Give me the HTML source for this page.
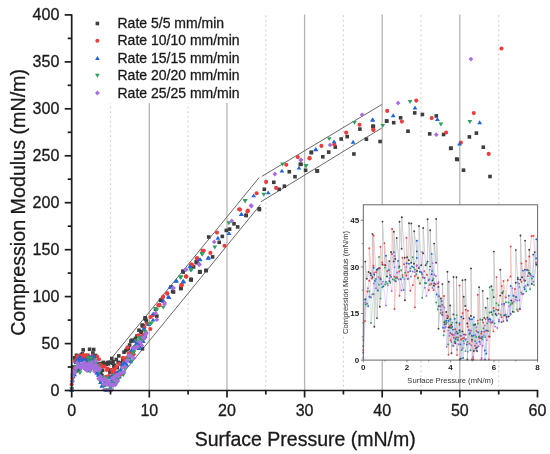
<!DOCTYPE html>
<html><head><meta charset="utf-8"><title>Compression Modulus</title><style>html,body{margin:0;padding:0;background:#fff;overflow:hidden}svg{display:block;filter:blur(0.35px)}</style></head><body>
<svg width="550" height="454" viewBox="0 0 550 454">
<style>.t{font-family:"Liberation Sans",Arial,sans-serif;fill:#1a1a1a;stroke:#1a1a1a;stroke-width:0.3px}</style>
<rect width="550" height="454" fill="#fff"/>
<line x1="110.5" y1="15.2" x2="110.5" y2="390" stroke="#d2d2d2" stroke-width="1.2" stroke-dasharray="1.8 3.0"/>
<line x1="149.3" y1="14.5" x2="149.3" y2="390" stroke="#b4b4b4" stroke-width="1.3"/>
<line x1="188.1" y1="15.2" x2="188.1" y2="390" stroke="#d2d2d2" stroke-width="1.2" stroke-dasharray="1.8 3.0"/>
<line x1="227.0" y1="14.5" x2="227.0" y2="390" stroke="#b4b4b4" stroke-width="1.3"/>
<line x1="265.8" y1="15.2" x2="265.8" y2="390" stroke="#d2d2d2" stroke-width="1.2" stroke-dasharray="1.8 3.0"/>
<line x1="304.6" y1="14.5" x2="304.6" y2="390" stroke="#b4b4b4" stroke-width="1.3"/>
<line x1="343.4" y1="15.2" x2="343.4" y2="390" stroke="#d2d2d2" stroke-width="1.2" stroke-dasharray="1.8 3.0"/>
<line x1="382.2" y1="14.5" x2="382.2" y2="390" stroke="#b4b4b4" stroke-width="1.3"/>
<line x1="421.0" y1="15.2" x2="421.0" y2="390" stroke="#d2d2d2" stroke-width="1.2" stroke-dasharray="1.8 3.0"/>
<line x1="459.8" y1="14.5" x2="459.8" y2="390" stroke="#b4b4b4" stroke-width="1.3"/>
<line x1="498.7" y1="15.2" x2="498.7" y2="390" stroke="#d2d2d2" stroke-width="1.2" stroke-dasharray="1.8 3.0"/>
<rect x="88" y="12" width="160" height="91" fill="#fff"/>
<g fill="none" stroke="#686868" stroke-width="1.0">
<polyline points="104.9,366.3 259.1,177.6"/>
<polyline points="261.8,176.4 381.8,104.5"/>
<polyline points="109,390.3 260.3,204.8"/>
<polyline points="260.9,201.8 381.8,128"/>
</g>
<g>
<rect x="143.8" y="317.3" width="3.6" height="3.6" fill="#3d3d3d"/>
<rect x="141.8" y="324.4" width="3.6" height="3.6" fill="#3d3d3d"/>
<rect x="140.6" y="323.8" width="3.6" height="3.6" fill="#3d3d3d"/>
<rect x="139.4" y="330.8" width="3.6" height="3.6" fill="#3d3d3d"/>
<rect x="137.2" y="328.4" width="3.6" height="3.6" fill="#3d3d3d"/>
<rect x="135.2" y="334.2" width="3.6" height="3.6" fill="#3d3d3d"/>
<rect x="133.7" y="336.6" width="3.6" height="3.6" fill="#3d3d3d"/>
<rect x="132.3" y="338.9" width="3.6" height="3.6" fill="#3d3d3d"/>
<rect x="130.3" y="338.3" width="3.6" height="3.6" fill="#3d3d3d"/>
<rect x="129.1" y="339.4" width="3.6" height="3.6" fill="#3d3d3d"/>
<rect x="127.8" y="343.2" width="3.6" height="3.6" fill="#3d3d3d"/>
<rect x="126.7" y="346.6" width="3.6" height="3.6" fill="#3d3d3d"/>
<rect x="125.3" y="347.5" width="3.6" height="3.6" fill="#3d3d3d"/>
<rect x="124.0" y="348.8" width="3.6" height="3.6" fill="#3d3d3d"/>
<rect x="122.2" y="350.4" width="3.6" height="3.6" fill="#3d3d3d"/>
<rect x="120.9" y="357.7" width="3.6" height="3.6" fill="#3d3d3d"/>
<rect x="119.0" y="361.0" width="3.6" height="3.6" fill="#3d3d3d"/>
<rect x="117.0" y="354.1" width="3.6" height="3.6" fill="#3d3d3d"/>
<rect x="116.4" y="360.6" width="3.6" height="3.6" fill="#3d3d3d"/>
<rect x="115.5" y="365.9" width="3.6" height="3.6" fill="#3d3d3d"/>
<rect x="114.5" y="357.7" width="3.6" height="3.6" fill="#3d3d3d"/>
<rect x="113.5" y="365.0" width="3.6" height="3.6" fill="#3d3d3d"/>
<rect x="112.7" y="363.5" width="3.6" height="3.6" fill="#3d3d3d"/>
<rect x="112.1" y="364.6" width="3.6" height="3.6" fill="#3d3d3d"/>
<rect x="111.3" y="360.0" width="3.6" height="3.6" fill="#3d3d3d"/>
<rect x="110.6" y="361.4" width="3.6" height="3.6" fill="#3d3d3d"/>
<rect x="110.0" y="356.8" width="3.6" height="3.6" fill="#3d3d3d"/>
<rect x="108.9" y="368.2" width="3.6" height="3.6" fill="#3d3d3d"/>
<rect x="108.1" y="370.3" width="3.6" height="3.6" fill="#3d3d3d"/>
<rect x="107.4" y="360.6" width="3.6" height="3.6" fill="#3d3d3d"/>
<rect x="106.4" y="362.1" width="3.6" height="3.6" fill="#3d3d3d"/>
<rect x="105.6" y="360.7" width="3.6" height="3.6" fill="#3d3d3d"/>
<rect x="104.5" y="362.2" width="3.6" height="3.6" fill="#3d3d3d"/>
<rect x="103.8" y="362.3" width="3.6" height="3.6" fill="#3d3d3d"/>
<rect x="102.8" y="362.7" width="3.6" height="3.6" fill="#3d3d3d"/>
<rect x="102.2" y="363.4" width="3.6" height="3.6" fill="#3d3d3d"/>
<rect x="101.4" y="360.6" width="3.6" height="3.6" fill="#3d3d3d"/>
<rect x="100.8" y="368.5" width="3.6" height="3.6" fill="#3d3d3d"/>
<rect x="100.1" y="373.7" width="3.6" height="3.6" fill="#3d3d3d"/>
<rect x="99.1" y="370.6" width="3.6" height="3.6" fill="#3d3d3d"/>
<rect x="98.2" y="361.8" width="3.6" height="3.6" fill="#3d3d3d"/>
<rect x="97.6" y="371.0" width="3.6" height="3.6" fill="#3d3d3d"/>
<rect x="96.5" y="364.1" width="3.6" height="3.6" fill="#3d3d3d"/>
<rect x="95.5" y="365.5" width="3.6" height="3.6" fill="#3d3d3d"/>
<rect x="94.7" y="362.3" width="3.6" height="3.6" fill="#3d3d3d"/>
<rect x="93.7" y="353.7" width="3.6" height="3.6" fill="#3d3d3d"/>
<rect x="92.9" y="354.5" width="3.6" height="3.6" fill="#3d3d3d"/>
<rect x="91.9" y="347.7" width="3.6" height="3.6" fill="#3d3d3d"/>
<rect x="91.1" y="351.2" width="3.6" height="3.6" fill="#3d3d3d"/>
<rect x="90.5" y="365.1" width="3.6" height="3.6" fill="#3d3d3d"/>
<rect x="89.8" y="360.9" width="3.6" height="3.6" fill="#3d3d3d"/>
<rect x="88.8" y="356.4" width="3.6" height="3.6" fill="#3d3d3d"/>
<rect x="87.8" y="347.5" width="3.6" height="3.6" fill="#3d3d3d"/>
<rect x="86.9" y="355.0" width="3.6" height="3.6" fill="#3d3d3d"/>
<rect x="86.0" y="353.5" width="3.6" height="3.6" fill="#3d3d3d"/>
<rect x="85.0" y="359.9" width="3.6" height="3.6" fill="#3d3d3d"/>
<rect x="84.2" y="360.9" width="3.6" height="3.6" fill="#3d3d3d"/>
<rect x="83.4" y="357.9" width="3.6" height="3.6" fill="#3d3d3d"/>
<rect x="82.7" y="355.9" width="3.6" height="3.6" fill="#3d3d3d"/>
<rect x="82.1" y="357.4" width="3.6" height="3.6" fill="#3d3d3d"/>
<rect x="81.4" y="348.1" width="3.6" height="3.6" fill="#3d3d3d"/>
<rect x="80.5" y="352.1" width="3.6" height="3.6" fill="#3d3d3d"/>
<rect x="79.5" y="353.2" width="3.6" height="3.6" fill="#3d3d3d"/>
<rect x="78.8" y="353.8" width="3.6" height="3.6" fill="#3d3d3d"/>
<rect x="78.0" y="356.1" width="3.6" height="3.6" fill="#3d3d3d"/>
<rect x="77.0" y="354.6" width="3.6" height="3.6" fill="#3d3d3d"/>
<rect x="76.3" y="367.8" width="3.6" height="3.6" fill="#3d3d3d"/>
<rect x="75.4" y="368.3" width="3.6" height="3.6" fill="#3d3d3d"/>
<rect x="74.7" y="353.5" width="3.6" height="3.6" fill="#3d3d3d"/>
<rect x="74.1" y="369.5" width="3.6" height="3.6" fill="#3d3d3d"/>
<rect x="73.5" y="359.0" width="3.6" height="3.6" fill="#3d3d3d"/>
<rect x="72.8" y="356.0" width="3.6" height="3.6" fill="#3d3d3d"/>
<rect x="72.0" y="365.2" width="3.6" height="3.6" fill="#3d3d3d"/>
<rect x="71.4" y="371.3" width="3.6" height="3.6" fill="#3d3d3d"/>
<rect x="70.8" y="373.2" width="3.6" height="3.6" fill="#3d3d3d"/>
<rect x="69.9" y="387.4" width="3.6" height="3.6" fill="#3d3d3d"/>
<rect x="195.0" y="259.7" width="3.6" height="3.6" fill="#3d3d3d"/>
<rect x="198.2" y="270.2" width="3.6" height="3.6" fill="#3d3d3d"/>
<rect x="181.4" y="270.2" width="3.6" height="3.6" fill="#3d3d3d"/>
<rect x="189.3" y="278.2" width="3.6" height="3.6" fill="#3d3d3d"/>
<rect x="179.1" y="286.1" width="3.6" height="3.6" fill="#3d3d3d"/>
<rect x="170.8" y="289.6" width="3.6" height="3.6" fill="#3d3d3d"/>
<rect x="159.4" y="298.5" width="3.6" height="3.6" fill="#3d3d3d"/>
<rect x="155.0" y="314.3" width="3.6" height="3.6" fill="#3d3d3d"/>
<rect x="143.5" y="317.0" width="3.6" height="3.6" fill="#3d3d3d"/>
<rect x="140.8" y="324.0" width="3.6" height="3.6" fill="#3d3d3d"/>
<rect x="244.3" y="213.6" width="3.6" height="3.6" fill="#3d3d3d"/>
<rect x="257.5" y="207.0" width="3.6" height="3.6" fill="#3d3d3d"/>
<rect x="232.2" y="222.0" width="3.6" height="3.6" fill="#3d3d3d"/>
<rect x="235.9" y="225.1" width="3.6" height="3.6" fill="#3d3d3d"/>
<rect x="227.8" y="227.3" width="3.6" height="3.6" fill="#3d3d3d"/>
<rect x="224.5" y="228.6" width="3.6" height="3.6" fill="#3d3d3d"/>
<rect x="206.9" y="235.2" width="3.6" height="3.6" fill="#3d3d3d"/>
<rect x="220.5" y="234.6" width="3.6" height="3.6" fill="#3d3d3d"/>
<rect x="217.4" y="240.5" width="3.6" height="3.6" fill="#3d3d3d"/>
<rect x="210.8" y="255.1" width="3.6" height="3.6" fill="#3d3d3d"/>
<rect x="194.7" y="260.9" width="3.6" height="3.6" fill="#3d3d3d"/>
<rect x="198.0" y="269.8" width="3.6" height="3.6" fill="#3d3d3d"/>
<rect x="204.2" y="268.7" width="3.6" height="3.6" fill="#3d3d3d"/>
<rect x="181.5" y="269.8" width="3.6" height="3.6" fill="#3d3d3d"/>
<rect x="189.2" y="277.5" width="3.6" height="3.6" fill="#3d3d3d"/>
<rect x="179.3" y="286.4" width="3.6" height="3.6" fill="#3d3d3d"/>
<rect x="371.1" y="124.5" width="3.6" height="3.6" fill="#3d3d3d"/>
<rect x="378.3" y="139.7" width="3.6" height="3.6" fill="#3d3d3d"/>
<rect x="384.9" y="119.3" width="3.6" height="3.6" fill="#3d3d3d"/>
<rect x="391.9" y="120.9" width="3.6" height="3.6" fill="#3d3d3d"/>
<rect x="398.8" y="116.0" width="3.6" height="3.6" fill="#3d3d3d"/>
<rect x="406.2" y="129.4" width="3.6" height="3.6" fill="#3d3d3d"/>
<rect x="412.9" y="111.1" width="3.6" height="3.6" fill="#3d3d3d"/>
<rect x="420.6" y="112.7" width="3.6" height="3.6" fill="#3d3d3d"/>
<rect x="434.5" y="114.1" width="3.6" height="3.6" fill="#3d3d3d"/>
<rect x="427.9" y="132.1" width="3.6" height="3.6" fill="#3d3d3d"/>
<rect x="441.8" y="132.7" width="3.6" height="3.6" fill="#3d3d3d"/>
<rect x="448.9" y="146.6" width="3.6" height="3.6" fill="#3d3d3d"/>
<rect x="454.9" y="157.3" width="3.6" height="3.6" fill="#3d3d3d"/>
<rect x="474.6" y="131.3" width="3.6" height="3.6" fill="#3d3d3d"/>
<rect x="467.6" y="135.1" width="3.6" height="3.6" fill="#3d3d3d"/>
<rect x="449.2" y="146.4" width="3.6" height="3.6" fill="#3d3d3d"/>
<rect x="481.5" y="145.4" width="3.6" height="3.6" fill="#3d3d3d"/>
<rect x="455.5" y="157.7" width="3.6" height="3.6" fill="#3d3d3d"/>
<rect x="461.7" y="168.4" width="3.6" height="3.6" fill="#3d3d3d"/>
<rect x="488.2" y="174.7" width="3.6" height="3.6" fill="#3d3d3d"/>
<rect x="384.8" y="119.3" width="3.6" height="3.6" fill="#3d3d3d"/>
<rect x="371.6" y="124.5" width="3.6" height="3.6" fill="#3d3d3d"/>
<rect x="358.1" y="127.3" width="3.6" height="3.6" fill="#3d3d3d"/>
<rect x="345.4" y="134.8" width="3.6" height="3.6" fill="#3d3d3d"/>
<rect x="339.4" y="137.2" width="3.6" height="3.6" fill="#3d3d3d"/>
<rect x="364.6" y="137.4" width="3.6" height="3.6" fill="#3d3d3d"/>
<rect x="333.5" y="145.3" width="3.6" height="3.6" fill="#3d3d3d"/>
<rect x="352.1" y="152.2" width="3.6" height="3.6" fill="#3d3d3d"/>
<rect x="309.5" y="150.8" width="3.6" height="3.6" fill="#3d3d3d"/>
<rect x="326.9" y="150.3" width="3.6" height="3.6" fill="#3d3d3d"/>
<rect x="321.0" y="155.0" width="3.6" height="3.6" fill="#3d3d3d"/>
<rect x="303.8" y="168.5" width="3.6" height="3.6" fill="#3d3d3d"/>
<rect x="315.6" y="169.1" width="3.6" height="3.6" fill="#3d3d3d"/>
<rect x="299.2" y="162.5" width="3.6" height="3.6" fill="#3d3d3d"/>
<rect x="309.6" y="150.5" width="3.6" height="3.6" fill="#3d3d3d"/>
<rect x="298.5" y="162.5" width="3.6" height="3.6" fill="#3d3d3d"/>
<rect x="315.2" y="169.2" width="3.6" height="3.6" fill="#3d3d3d"/>
<rect x="287.5" y="169.9" width="3.6" height="3.6" fill="#3d3d3d"/>
<rect x="293.2" y="174.9" width="3.6" height="3.6" fill="#3d3d3d"/>
<rect x="272.0" y="180.5" width="3.6" height="3.6" fill="#3d3d3d"/>
<rect x="277.3" y="187.5" width="3.6" height="3.6" fill="#3d3d3d"/>
<rect x="282.6" y="184.4" width="3.6" height="3.6" fill="#3d3d3d"/>
<rect x="262.5" y="187.5" width="3.6" height="3.6" fill="#3d3d3d"/>
<rect x="257.6" y="207.8" width="3.6" height="3.6" fill="#3d3d3d"/>
<rect x="244.4" y="213.6" width="3.6" height="3.6" fill="#3d3d3d"/>
<rect x="194.5" y="260.1" width="3.6" height="3.6" fill="#3d3d3d"/>
<rect x="197.8" y="270.4" width="3.6" height="3.6" fill="#3d3d3d"/>
<rect x="204.4" y="268.7" width="3.6" height="3.6" fill="#3d3d3d"/>
<rect x="191.8" y="265.1" width="3.6" height="3.6" fill="#3d3d3d"/>
<rect x="181.2" y="269.3" width="3.6" height="3.6" fill="#3d3d3d"/>
<rect x="189.4" y="277.9" width="3.6" height="3.6" fill="#3d3d3d"/>
<rect x="178.9" y="286.8" width="3.6" height="3.6" fill="#3d3d3d"/>
<rect x="169.3" y="285.2" width="3.6" height="3.6" fill="#3d3d3d"/>
<rect x="171.7" y="290.2" width="3.6" height="3.6" fill="#3d3d3d"/>
<rect x="158.8" y="298.4" width="3.6" height="3.6" fill="#3d3d3d"/>
<rect x="153.8" y="307.4" width="3.6" height="3.6" fill="#3d3d3d"/>
<rect x="143.3" y="316.0" width="3.6" height="3.6" fill="#3d3d3d"/>
<rect x="144.6" y="319.3" width="3.6" height="3.6" fill="#3d3d3d"/>
<rect x="140.6" y="323.3" width="3.6" height="3.6" fill="#3d3d3d"/>
<rect x="139.3" y="329.9" width="3.6" height="3.6" fill="#3d3d3d"/>
<rect x="140.6" y="347.0" width="3.6" height="3.6" fill="#3d3d3d"/>
</g>
<g>
<circle cx="145.5" cy="332.0" r="2.05" fill="#ee3b3b"/>
<circle cx="143.8" cy="335.1" r="2.05" fill="#ee3b3b"/>
<circle cx="142.2" cy="336.3" r="2.05" fill="#ee3b3b"/>
<circle cx="140.2" cy="343.8" r="2.05" fill="#ee3b3b"/>
<circle cx="138.5" cy="335.2" r="2.05" fill="#ee3b3b"/>
<circle cx="136.6" cy="341.9" r="2.05" fill="#ee3b3b"/>
<circle cx="134.9" cy="347.4" r="2.05" fill="#ee3b3b"/>
<circle cx="133.6" cy="354.2" r="2.05" fill="#ee3b3b"/>
<circle cx="131.9" cy="354.9" r="2.05" fill="#ee3b3b"/>
<circle cx="130.5" cy="352.2" r="2.05" fill="#ee3b3b"/>
<circle cx="128.8" cy="353.6" r="2.05" fill="#ee3b3b"/>
<circle cx="127.5" cy="347.4" r="2.05" fill="#ee3b3b"/>
<circle cx="126.2" cy="358.0" r="2.05" fill="#ee3b3b"/>
<circle cx="124.6" cy="361.2" r="2.05" fill="#ee3b3b"/>
<circle cx="122.9" cy="357.8" r="2.05" fill="#ee3b3b"/>
<circle cx="121.3" cy="374.4" r="2.05" fill="#ee3b3b"/>
<circle cx="119.2" cy="363.9" r="2.05" fill="#ee3b3b"/>
<circle cx="117.9" cy="372.5" r="2.05" fill="#ee3b3b"/>
<circle cx="116.4" cy="366.8" r="2.05" fill="#ee3b3b"/>
<circle cx="115.4" cy="372.2" r="2.05" fill="#ee3b3b"/>
<circle cx="114.1" cy="369.3" r="2.05" fill="#ee3b3b"/>
<circle cx="113.1" cy="373.3" r="2.05" fill="#ee3b3b"/>
<circle cx="112.0" cy="370.3" r="2.05" fill="#ee3b3b"/>
<circle cx="110.6" cy="382.4" r="2.05" fill="#ee3b3b"/>
<circle cx="109.0" cy="375.7" r="2.05" fill="#ee3b3b"/>
<circle cx="107.7" cy="368.5" r="2.05" fill="#ee3b3b"/>
<circle cx="106.9" cy="369.9" r="2.05" fill="#ee3b3b"/>
<circle cx="105.9" cy="376.8" r="2.05" fill="#ee3b3b"/>
<circle cx="104.5" cy="366.5" r="2.05" fill="#ee3b3b"/>
<circle cx="103.0" cy="366.2" r="2.05" fill="#ee3b3b"/>
<circle cx="101.5" cy="367.3" r="2.05" fill="#ee3b3b"/>
<circle cx="100.0" cy="364.9" r="2.05" fill="#ee3b3b"/>
<circle cx="99.0" cy="359.3" r="2.05" fill="#ee3b3b"/>
<circle cx="98.0" cy="372.5" r="2.05" fill="#ee3b3b"/>
<circle cx="97.2" cy="356.6" r="2.05" fill="#ee3b3b"/>
<circle cx="96.2" cy="366.1" r="2.05" fill="#ee3b3b"/>
<circle cx="95.2" cy="366.4" r="2.05" fill="#ee3b3b"/>
<circle cx="94.6" cy="361.3" r="2.05" fill="#ee3b3b"/>
<circle cx="93.6" cy="357.9" r="2.05" fill="#ee3b3b"/>
<circle cx="92.6" cy="355.5" r="2.05" fill="#ee3b3b"/>
<circle cx="91.6" cy="364.6" r="2.05" fill="#ee3b3b"/>
<circle cx="90.7" cy="357.8" r="2.05" fill="#ee3b3b"/>
<circle cx="89.7" cy="357.4" r="2.05" fill="#ee3b3b"/>
<circle cx="88.8" cy="359.0" r="2.05" fill="#ee3b3b"/>
<circle cx="88.1" cy="360.8" r="2.05" fill="#ee3b3b"/>
<circle cx="87.4" cy="355.7" r="2.05" fill="#ee3b3b"/>
<circle cx="86.3" cy="360.9" r="2.05" fill="#ee3b3b"/>
<circle cx="85.3" cy="355.3" r="2.05" fill="#ee3b3b"/>
<circle cx="84.4" cy="359.3" r="2.05" fill="#ee3b3b"/>
<circle cx="83.7" cy="356.6" r="2.05" fill="#ee3b3b"/>
<circle cx="83.1" cy="355.0" r="2.05" fill="#ee3b3b"/>
<circle cx="82.3" cy="359.4" r="2.05" fill="#ee3b3b"/>
<circle cx="81.4" cy="366.3" r="2.05" fill="#ee3b3b"/>
<circle cx="80.4" cy="355.7" r="2.05" fill="#ee3b3b"/>
<circle cx="79.3" cy="357.9" r="2.05" fill="#ee3b3b"/>
<circle cx="78.4" cy="363.0" r="2.05" fill="#ee3b3b"/>
<circle cx="77.4" cy="356.2" r="2.05" fill="#ee3b3b"/>
<circle cx="76.6" cy="359.6" r="2.05" fill="#ee3b3b"/>
<circle cx="75.8" cy="368.9" r="2.05" fill="#ee3b3b"/>
<circle cx="75.1" cy="361.4" r="2.05" fill="#ee3b3b"/>
<circle cx="74.0" cy="368.8" r="2.05" fill="#ee3b3b"/>
<circle cx="73.2" cy="373.9" r="2.05" fill="#ee3b3b"/>
<circle cx="72.5" cy="378.1" r="2.05" fill="#ee3b3b"/>
<circle cx="71.7" cy="384.5" r="2.05" fill="#ee3b3b"/>
<circle cx="202.6" cy="250.9" r="2.05" fill="#ee3b3b"/>
<circle cx="197.3" cy="258.8" r="2.05" fill="#ee3b3b"/>
<circle cx="192.0" cy="265.0" r="2.05" fill="#ee3b3b"/>
<circle cx="186.2" cy="276.5" r="2.05" fill="#ee3b3b"/>
<circle cx="181.4" cy="285.3" r="2.05" fill="#ee3b3b"/>
<circle cx="167.3" cy="293.2" r="2.05" fill="#ee3b3b"/>
<circle cx="162.9" cy="297.6" r="2.05" fill="#ee3b3b"/>
<circle cx="159.4" cy="304.7" r="2.05" fill="#ee3b3b"/>
<circle cx="150.6" cy="317.0" r="2.05" fill="#ee3b3b"/>
<circle cx="144.4" cy="327.6" r="2.05" fill="#ee3b3b"/>
<circle cx="239.1" cy="209.3" r="2.05" fill="#ee3b3b"/>
<circle cx="247.9" cy="210.6" r="2.05" fill="#ee3b3b"/>
<circle cx="217.0" cy="232.6" r="2.05" fill="#ee3b3b"/>
<circle cx="224.5" cy="245.8" r="2.05" fill="#ee3b3b"/>
<circle cx="203.8" cy="250.7" r="2.05" fill="#ee3b3b"/>
<circle cx="210.4" cy="252.9" r="2.05" fill="#ee3b3b"/>
<circle cx="197.2" cy="258.4" r="2.05" fill="#ee3b3b"/>
<circle cx="192.1" cy="265.0" r="2.05" fill="#ee3b3b"/>
<circle cx="186.2" cy="276.7" r="2.05" fill="#ee3b3b"/>
<circle cx="181.8" cy="284.8" r="2.05" fill="#ee3b3b"/>
<circle cx="373.3" cy="129.6" r="2.05" fill="#ee3b3b"/>
<circle cx="387.2" cy="110.9" r="2.05" fill="#ee3b3b"/>
<circle cx="401.9" cy="121.6" r="2.05" fill="#ee3b3b"/>
<circle cx="416.3" cy="100.6" r="2.05" fill="#ee3b3b"/>
<circle cx="431.7" cy="118.1" r="2.05" fill="#ee3b3b"/>
<circle cx="446.1" cy="132.5" r="2.05" fill="#ee3b3b"/>
<circle cx="501.5" cy="48.5" r="2.05" fill="#ee3b3b"/>
<circle cx="473.8" cy="113.1" r="2.05" fill="#ee3b3b"/>
<circle cx="460.9" cy="142.6" r="2.05" fill="#ee3b3b"/>
<circle cx="488.7" cy="153.9" r="2.05" fill="#ee3b3b"/>
<circle cx="359.5" cy="124.7" r="2.05" fill="#ee3b3b"/>
<circle cx="373.4" cy="130.0" r="2.05" fill="#ee3b3b"/>
<circle cx="346.2" cy="132.6" r="2.05" fill="#ee3b3b"/>
<circle cx="334.3" cy="144.5" r="2.05" fill="#ee3b3b"/>
<circle cx="321.4" cy="145.9" r="2.05" fill="#ee3b3b"/>
<circle cx="309.5" cy="158.4" r="2.05" fill="#ee3b3b"/>
<circle cx="297.8" cy="157.1" r="2.05" fill="#ee3b3b"/>
<circle cx="309.6" cy="158.1" r="2.05" fill="#ee3b3b"/>
<circle cx="286.3" cy="164.8" r="2.05" fill="#ee3b3b"/>
<circle cx="266.1" cy="181.9" r="2.05" fill="#ee3b3b"/>
<circle cx="276.1" cy="187.9" r="2.05" fill="#ee3b3b"/>
<circle cx="256.7" cy="193.2" r="2.05" fill="#ee3b3b"/>
<circle cx="247.4" cy="211.4" r="2.05" fill="#ee3b3b"/>
<circle cx="240.0" cy="209.6" r="2.05" fill="#ee3b3b"/>
<circle cx="202.9" cy="250.7" r="2.05" fill="#ee3b3b"/>
<circle cx="196.9" cy="258.2" r="2.05" fill="#ee3b3b"/>
<circle cx="191.2" cy="264.3" r="2.05" fill="#ee3b3b"/>
<circle cx="186.0" cy="276.2" r="2.05" fill="#ee3b3b"/>
<circle cx="181.5" cy="285.4" r="2.05" fill="#ee3b3b"/>
<circle cx="167.2" cy="293.6" r="2.05" fill="#ee3b3b"/>
<circle cx="163.2" cy="296.5" r="2.05" fill="#ee3b3b"/>
<circle cx="159.3" cy="305.5" r="2.05" fill="#ee3b3b"/>
<circle cx="158.3" cy="305.3" r="2.05" fill="#ee3b3b"/>
<circle cx="153.0" cy="315.2" r="2.05" fill="#ee3b3b"/>
<circle cx="147.1" cy="323.8" r="2.05" fill="#ee3b3b"/>
<circle cx="150.4" cy="329.0" r="2.05" fill="#ee3b3b"/>
<circle cx="141.1" cy="338.3" r="2.05" fill="#ee3b3b"/>
</g>
<g>
<path d="M144.8 334.1L147.2 338.0H142.4Z" fill="#1f64d8"/>
<path d="M143.3 339.2L145.7 343.1H140.9Z" fill="#1f64d8"/>
<path d="M141.7 335.0L144.1 338.8H139.3Z" fill="#1f64d8"/>
<path d="M140.2 344.3L142.6 348.2H137.8Z" fill="#1f64d8"/>
<path d="M138.8 346.0L141.2 349.9H136.4Z" fill="#1f64d8"/>
<path d="M137.8 341.5L140.2 345.4H135.4Z" fill="#1f64d8"/>
<path d="M136.4 341.0L138.8 344.9H134.0Z" fill="#1f64d8"/>
<path d="M134.8 338.6L137.2 342.5H132.4Z" fill="#1f64d8"/>
<path d="M133.3 347.8L135.7 351.7H130.9Z" fill="#1f64d8"/>
<path d="M131.8 347.8L134.2 351.7H129.4Z" fill="#1f64d8"/>
<path d="M130.6 359.3L133.0 363.2H128.2Z" fill="#1f64d8"/>
<path d="M129.4 355.2L131.8 359.1H127.0Z" fill="#1f64d8"/>
<path d="M128.0 358.2L130.4 362.1H125.6Z" fill="#1f64d8"/>
<path d="M126.5 362.1L128.9 366.0H124.1Z" fill="#1f64d8"/>
<path d="M125.3 359.6L127.7 363.5H122.9Z" fill="#1f64d8"/>
<path d="M124.2 360.8L126.6 364.7H121.8Z" fill="#1f64d8"/>
<path d="M122.9 363.4L125.3 367.3H120.5Z" fill="#1f64d8"/>
<path d="M121.9 362.2L124.3 366.1H119.5Z" fill="#1f64d8"/>
<path d="M120.6 367.3L123.0 371.2H118.2Z" fill="#1f64d8"/>
<path d="M119.5 374.7L121.9 378.6H117.1Z" fill="#1f64d8"/>
<path d="M118.3 369.5L120.7 373.4H115.9Z" fill="#1f64d8"/>
<path d="M117.8 375.2L120.2 379.1H115.4Z" fill="#1f64d8"/>
<path d="M117.0 376.2L119.4 380.1H114.6Z" fill="#1f64d8"/>
<path d="M116.4 370.7L118.8 374.6H114.0Z" fill="#1f64d8"/>
<path d="M115.6 373.5L118.0 377.4H113.2Z" fill="#1f64d8"/>
<path d="M115.0 375.7L117.4 379.6H112.6Z" fill="#1f64d8"/>
<path d="M114.4 376.0L116.8 379.8H112.0Z" fill="#1f64d8"/>
<path d="M113.8 380.3L116.2 384.2H111.4Z" fill="#1f64d8"/>
<path d="M113.1 375.7L115.5 379.5H110.7Z" fill="#1f64d8"/>
<path d="M112.3 373.1L114.7 377.0H109.9Z" fill="#1f64d8"/>
<path d="M111.8 377.7L114.2 381.6H109.4Z" fill="#1f64d8"/>
<path d="M111.2 374.6L113.6 378.5H108.8Z" fill="#1f64d8"/>
<path d="M110.7 379.4L113.1 383.2H108.3Z" fill="#1f64d8"/>
<path d="M110.2 385.5L112.6 389.4H107.8Z" fill="#1f64d8"/>
<path d="M109.5 375.5L111.9 379.3H107.1Z" fill="#1f64d8"/>
<path d="M108.7 387.8L111.1 391.7H106.3Z" fill="#1f64d8"/>
<path d="M107.9 380.1L110.3 384.0H105.5Z" fill="#1f64d8"/>
<path d="M107.2 387.9L109.6 391.7H104.8Z" fill="#1f64d8"/>
<path d="M106.4 388.1L108.8 392.0H104.0Z" fill="#1f64d8"/>
<path d="M105.7 382.1L108.1 386.0H103.3Z" fill="#1f64d8"/>
<path d="M105.2 379.3L107.6 383.2H102.8Z" fill="#1f64d8"/>
<path d="M104.4 381.8L106.8 385.7H102.0Z" fill="#1f64d8"/>
<path d="M103.7 382.6L106.1 386.5H101.3Z" fill="#1f64d8"/>
<path d="M102.9 383.0L105.3 386.9H100.5Z" fill="#1f64d8"/>
<path d="M102.5 382.8L104.9 386.7H100.1Z" fill="#1f64d8"/>
<path d="M101.9 383.8L104.3 387.7H99.5Z" fill="#1f64d8"/>
<path d="M101.3 378.0L103.7 381.9H98.9Z" fill="#1f64d8"/>
<path d="M100.5 380.1L102.9 384.0H98.1Z" fill="#1f64d8"/>
<path d="M100.0 376.7L102.4 380.6H97.6Z" fill="#1f64d8"/>
<path d="M99.5 374.9L101.9 378.7H97.1Z" fill="#1f64d8"/>
<path d="M98.9 372.8L101.3 376.7H96.5Z" fill="#1f64d8"/>
<path d="M98.3 372.6L100.7 376.5H95.9Z" fill="#1f64d8"/>
<path d="M97.4 369.2L99.8 373.1H95.0Z" fill="#1f64d8"/>
<path d="M96.8 370.9L99.2 374.8H94.4Z" fill="#1f64d8"/>
<path d="M96.0 362.2L98.4 366.0H93.6Z" fill="#1f64d8"/>
<path d="M95.5 358.2L97.9 362.1H93.1Z" fill="#1f64d8"/>
<path d="M94.7 357.8L97.1 361.7H92.3Z" fill="#1f64d8"/>
<path d="M94.0 353.6L96.4 357.5H91.6Z" fill="#1f64d8"/>
<path d="M93.4 359.9L95.8 363.8H91.0Z" fill="#1f64d8"/>
<path d="M92.6 359.5L95.0 363.3H90.2Z" fill="#1f64d8"/>
<path d="M91.9 354.4L94.3 358.3H89.5Z" fill="#1f64d8"/>
<path d="M91.2 355.9L93.6 359.8H88.8Z" fill="#1f64d8"/>
<path d="M90.6 356.8L93.0 360.7H88.2Z" fill="#1f64d8"/>
<path d="M89.8 366.5L92.2 370.4H87.4Z" fill="#1f64d8"/>
<path d="M89.3 358.6L91.7 362.5H86.9Z" fill="#1f64d8"/>
<path d="M88.8 354.4L91.2 358.3H86.4Z" fill="#1f64d8"/>
<path d="M88.2 368.4L90.6 372.3H85.8Z" fill="#1f64d8"/>
<path d="M87.7 357.7L90.1 361.6H85.3Z" fill="#1f64d8"/>
<path d="M86.8 362.6L89.2 366.5H84.4Z" fill="#1f64d8"/>
<path d="M86.3 362.7L88.7 366.6H83.9Z" fill="#1f64d8"/>
<path d="M85.8 361.1L88.2 365.0H83.4Z" fill="#1f64d8"/>
<path d="M85.3 363.3L87.7 367.2H82.9Z" fill="#1f64d8"/>
<path d="M84.8 357.3L87.2 361.2H82.4Z" fill="#1f64d8"/>
<path d="M84.1 359.2L86.5 363.1H81.7Z" fill="#1f64d8"/>
<path d="M83.5 357.2L85.9 361.1H81.1Z" fill="#1f64d8"/>
<path d="M82.8 358.5L85.2 362.3H80.4Z" fill="#1f64d8"/>
<path d="M82.0 358.1L84.4 362.0H79.6Z" fill="#1f64d8"/>
<path d="M81.2 363.5L83.6 367.4H78.8Z" fill="#1f64d8"/>
<path d="M80.3 366.4L82.7 370.3H77.9Z" fill="#1f64d8"/>
<path d="M79.8 354.3L82.2 358.2H77.4Z" fill="#1f64d8"/>
<path d="M79.3 356.5L81.7 360.4H76.9Z" fill="#1f64d8"/>
<path d="M78.5 358.3L80.9 362.2H76.1Z" fill="#1f64d8"/>
<path d="M77.7 359.6L80.1 363.5H75.3Z" fill="#1f64d8"/>
<path d="M76.9 357.8L79.3 361.7H74.5Z" fill="#1f64d8"/>
<path d="M76.4 360.1L78.8 364.0H74.0Z" fill="#1f64d8"/>
<path d="M75.9 360.3L78.3 364.2H73.5Z" fill="#1f64d8"/>
<path d="M75.4 366.3L77.8 370.2H73.0Z" fill="#1f64d8"/>
<path d="M74.6 372.3L77.0 376.2H72.2Z" fill="#1f64d8"/>
<path d="M74.0 368.6L76.4 372.5H71.6Z" fill="#1f64d8"/>
<path d="M73.2 374.0L75.6 377.9H70.8Z" fill="#1f64d8"/>
<path d="M72.4 378.2L74.8 382.1H70.0Z" fill="#1f64d8"/>
<path d="M71.7 388.1L74.1 392.0H69.3Z" fill="#1f64d8"/>
<path d="M207.9 255.8L210.3 259.7H205.5Z" fill="#1f64d8"/>
<path d="M191.1 266.4L193.5 270.3H188.7Z" fill="#1f64d8"/>
<path d="M183.2 278.8L185.6 282.7H180.8Z" fill="#1f64d8"/>
<path d="M176.1 278.8L178.5 282.7H173.7Z" fill="#1f64d8"/>
<path d="M170.0 284.9L172.4 288.8H167.6Z" fill="#1f64d8"/>
<path d="M168.2 294.6L170.6 298.5H165.8Z" fill="#1f64d8"/>
<path d="M163.8 299.0L166.2 302.9H161.4Z" fill="#1f64d8"/>
<path d="M153.2 311.4L155.6 315.3H150.8Z" fill="#1f64d8"/>
<path d="M148.8 322.0L151.2 325.9H146.4Z" fill="#1f64d8"/>
<path d="M241.3 212.2L243.7 216.1H238.9Z" fill="#1f64d8"/>
<path d="M228.9 231.0L231.3 234.9H226.5Z" fill="#1f64d8"/>
<path d="M217.9 235.8L220.3 239.7H215.5Z" fill="#1f64d8"/>
<path d="M208.7 255.6L211.1 259.5H206.3Z" fill="#1f64d8"/>
<path d="M199.4 257.4L201.8 261.3H197.0Z" fill="#1f64d8"/>
<path d="M189.9 264.0L192.3 267.9H187.5Z" fill="#1f64d8"/>
<path d="M183.3 279.4L185.7 283.3H180.9Z" fill="#1f64d8"/>
<path d="M372.5 117.7L374.9 121.6H370.1Z" fill="#1f64d8"/>
<path d="M393.2 113.3L395.6 117.2H390.8Z" fill="#1f64d8"/>
<path d="M415.0 105.6L417.4 109.5H412.6Z" fill="#1f64d8"/>
<path d="M437.4 117.0L439.8 120.9H435.0Z" fill="#1f64d8"/>
<path d="M479.7 120.3L482.1 124.2H477.3Z" fill="#1f64d8"/>
<path d="M459.5 141.5L461.9 145.4H457.1Z" fill="#1f64d8"/>
<path d="M372.8 117.6L375.2 121.5H370.4Z" fill="#1f64d8"/>
<path d="M353.1 139.8L355.5 143.7H350.7Z" fill="#1f64d8"/>
<path d="M334.1 139.4L336.5 143.3H331.7Z" fill="#1f64d8"/>
<path d="M315.9 147.4L318.3 151.3H313.5Z" fill="#1f64d8"/>
<path d="M315.8 147.1L318.2 151.0H313.4Z" fill="#1f64d8"/>
<path d="M299.0 165.7L301.4 169.6H296.6Z" fill="#1f64d8"/>
<path d="M281.9 168.7L284.3 172.6H279.5Z" fill="#1f64d8"/>
<path d="M268.2 190.4L270.6 194.3H265.8Z" fill="#1f64d8"/>
<path d="M253.7 193.4L256.1 197.3H251.3Z" fill="#1f64d8"/>
<path d="M241.4 211.9L243.8 215.8H239.0Z" fill="#1f64d8"/>
<path d="M200.2 257.2L202.6 261.1H197.8Z" fill="#1f64d8"/>
<path d="M183.7 279.4L186.1 283.3H181.3Z" fill="#1f64d8"/>
<path d="M176.4 278.3L178.8 282.2H174.0Z" fill="#1f64d8"/>
<path d="M169.2 295.2L171.6 299.1H166.8Z" fill="#1f64d8"/>
<path d="M163.2 298.8L165.6 302.7H160.8Z" fill="#1f64d8"/>
<path d="M153.0 317.7L155.4 321.6H150.6Z" fill="#1f64d8"/>
<path d="M143.8 326.3L146.2 330.2H141.4Z" fill="#1f64d8"/>
<path d="M145.1 333.5L147.5 337.4H142.7Z" fill="#1f64d8"/>
</g>
<g>
<path d="M144.9 333.6L147.3 329.7H142.5Z" fill="#2fa060"/>
<path d="M143.2 339.6L145.6 335.7H140.8Z" fill="#2fa060"/>
<path d="M142.0 341.5L144.4 337.6H139.6Z" fill="#2fa060"/>
<path d="M140.7 342.2L143.1 338.3H138.3Z" fill="#2fa060"/>
<path d="M139.0 340.1L141.4 336.2H136.6Z" fill="#2fa060"/>
<path d="M138.1 349.4L140.5 345.6H135.7Z" fill="#2fa060"/>
<path d="M136.5 342.8L138.9 338.9H134.1Z" fill="#2fa060"/>
<path d="M135.2 349.0L137.6 345.1H132.8Z" fill="#2fa060"/>
<path d="M134.0 354.0L136.4 350.2H131.6Z" fill="#2fa060"/>
<path d="M132.9 355.5L135.3 351.6H130.5Z" fill="#2fa060"/>
<path d="M131.3 363.1L133.7 359.2H128.9Z" fill="#2fa060"/>
<path d="M130.2 358.2L132.6 354.3H127.8Z" fill="#2fa060"/>
<path d="M128.5 359.1L130.9 355.3H126.1Z" fill="#2fa060"/>
<path d="M127.4 361.4L129.8 357.5H125.0Z" fill="#2fa060"/>
<path d="M126.1 369.6L128.5 365.7H123.7Z" fill="#2fa060"/>
<path d="M124.9 370.9L127.3 367.0H122.5Z" fill="#2fa060"/>
<path d="M123.4 377.0L125.8 373.1H121.0Z" fill="#2fa060"/>
<path d="M122.2 370.2L124.6 366.3H119.8Z" fill="#2fa060"/>
<path d="M121.1 374.8L123.5 370.9H118.7Z" fill="#2fa060"/>
<path d="M120.1 375.3L122.5 371.4H117.7Z" fill="#2fa060"/>
<path d="M119.1 380.0L121.5 376.1H116.7Z" fill="#2fa060"/>
<path d="M118.2 379.6L120.6 375.7H115.8Z" fill="#2fa060"/>
<path d="M117.4 384.2L119.8 380.3H115.0Z" fill="#2fa060"/>
<path d="M116.6 379.9L119.0 376.0H114.2Z" fill="#2fa060"/>
<path d="M116.0 381.6L118.4 377.7H113.6Z" fill="#2fa060"/>
<path d="M115.4 386.9L117.8 383.0H113.0Z" fill="#2fa060"/>
<path d="M114.7 386.7L117.1 382.8H112.3Z" fill="#2fa060"/>
<path d="M114.1 378.0L116.5 374.1H111.7Z" fill="#2fa060"/>
<path d="M113.3 387.9L115.7 384.0H110.9Z" fill="#2fa060"/>
<path d="M112.7 387.2L115.1 383.3H110.3Z" fill="#2fa060"/>
<path d="M112.1 384.5L114.5 380.6H109.7Z" fill="#2fa060"/>
<path d="M111.6 392.3L114.0 388.4H109.2Z" fill="#2fa060"/>
<path d="M111.0 387.3L113.4 383.4H108.6Z" fill="#2fa060"/>
<path d="M110.4 389.2L112.8 385.3H108.0Z" fill="#2fa060"/>
<path d="M109.6 388.3L112.0 384.4H107.2Z" fill="#2fa060"/>
<path d="M108.9 392.3L111.3 388.4H106.5Z" fill="#2fa060"/>
<path d="M108.1 392.3L110.5 388.4H105.7Z" fill="#2fa060"/>
<path d="M107.3 380.6L109.7 376.7H104.9Z" fill="#2fa060"/>
<path d="M106.5 392.3L108.9 388.4H104.1Z" fill="#2fa060"/>
<path d="M106.0 384.5L108.4 380.6H103.6Z" fill="#2fa060"/>
<path d="M105.3 387.7L107.7 383.8H102.9Z" fill="#2fa060"/>
<path d="M104.5 382.2L106.9 378.3H102.1Z" fill="#2fa060"/>
<path d="M103.9 379.5L106.3 375.7H101.5Z" fill="#2fa060"/>
<path d="M103.4 381.8L105.8 377.9H101.0Z" fill="#2fa060"/>
<path d="M102.8 387.3L105.2 383.4H100.4Z" fill="#2fa060"/>
<path d="M102.1 379.6L104.5 375.8H99.7Z" fill="#2fa060"/>
<path d="M101.3 382.3L103.7 378.4H98.9Z" fill="#2fa060"/>
<path d="M100.7 380.4L103.1 376.6H98.3Z" fill="#2fa060"/>
<path d="M99.9 371.8L102.3 367.9H97.5Z" fill="#2fa060"/>
<path d="M99.4 374.4L101.8 370.6H97.0Z" fill="#2fa060"/>
<path d="M98.6 368.2L101.0 364.3H96.2Z" fill="#2fa060"/>
<path d="M97.8 369.3L100.2 365.4H95.4Z" fill="#2fa060"/>
<path d="M97.2 368.6L99.6 364.7H94.8Z" fill="#2fa060"/>
<path d="M96.6 369.5L99.0 365.6H94.2Z" fill="#2fa060"/>
<path d="M96.0 365.7L98.4 361.8H93.6Z" fill="#2fa060"/>
<path d="M95.5 362.5L97.9 358.6H93.1Z" fill="#2fa060"/>
<path d="M94.9 367.1L97.3 363.2H92.5Z" fill="#2fa060"/>
<path d="M94.1 370.5L96.5 366.6H91.7Z" fill="#2fa060"/>
<path d="M93.3 365.9L95.7 362.0H90.9Z" fill="#2fa060"/>
<path d="M92.8 364.6L95.2 360.7H90.4Z" fill="#2fa060"/>
<path d="M91.9 365.0L94.3 361.1H89.5Z" fill="#2fa060"/>
<path d="M91.3 360.5L93.7 356.6H88.9Z" fill="#2fa060"/>
<path d="M90.7 365.3L93.1 361.4H88.3Z" fill="#2fa060"/>
<path d="M90.1 373.6L92.5 369.8H87.7Z" fill="#2fa060"/>
<path d="M89.5 363.7L91.9 359.8H87.1Z" fill="#2fa060"/>
<path d="M88.9 367.7L91.3 363.8H86.5Z" fill="#2fa060"/>
<path d="M88.4 360.2L90.8 356.3H86.0Z" fill="#2fa060"/>
<path d="M87.8 366.4L90.2 362.5H85.4Z" fill="#2fa060"/>
<path d="M87.0 368.0L89.4 364.1H84.6Z" fill="#2fa060"/>
<path d="M86.4 368.8L88.8 364.9H84.0Z" fill="#2fa060"/>
<path d="M85.7 367.8L88.1 363.9H83.3Z" fill="#2fa060"/>
<path d="M85.0 366.0L87.4 362.1H82.6Z" fill="#2fa060"/>
<path d="M84.3 364.9L86.7 361.0H81.9Z" fill="#2fa060"/>
<path d="M83.8 369.4L86.2 365.5H81.4Z" fill="#2fa060"/>
<path d="M83.1 367.2L85.5 363.3H80.7Z" fill="#2fa060"/>
<path d="M82.5 368.0L84.9 364.2H80.1Z" fill="#2fa060"/>
<path d="M82.0 367.9L84.4 364.0H79.6Z" fill="#2fa060"/>
<path d="M81.3 366.7L83.7 362.9H78.9Z" fill="#2fa060"/>
<path d="M80.5 371.6L82.9 367.7H78.1Z" fill="#2fa060"/>
<path d="M79.9 375.1L82.3 371.3H77.5Z" fill="#2fa060"/>
<path d="M79.3 368.1L81.7 364.2H76.9Z" fill="#2fa060"/>
<path d="M78.7 367.0L81.1 363.1H76.3Z" fill="#2fa060"/>
<path d="M78.0 366.4L80.4 362.6H75.6Z" fill="#2fa060"/>
<path d="M77.4 369.6L79.8 365.8H75.0Z" fill="#2fa060"/>
<path d="M76.7 369.8L79.1 365.9H74.3Z" fill="#2fa060"/>
<path d="M76.0 374.1L78.4 370.2H73.6Z" fill="#2fa060"/>
<path d="M75.3 369.0L77.7 365.1H72.9Z" fill="#2fa060"/>
<path d="M74.9 374.3L77.3 370.4H72.5Z" fill="#2fa060"/>
<path d="M74.2 375.5L76.6 371.6H71.8Z" fill="#2fa060"/>
<path d="M73.5 374.5L75.9 370.6H71.1Z" fill="#2fa060"/>
<path d="M72.8 378.0L75.2 374.1H70.4Z" fill="#2fa060"/>
<path d="M72.2 384.5L74.6 380.6H69.8Z" fill="#2fa060"/>
<path d="M71.7 391.0L74.1 387.1H69.3Z" fill="#2fa060"/>
<path d="M202.1 256.0L204.5 252.1H199.7Z" fill="#2fa060"/>
<path d="M180.6 279.4L183.0 275.5H178.2Z" fill="#2fa060"/>
<path d="M156.8 312.1L159.2 308.2H154.4Z" fill="#2fa060"/>
<path d="M151.5 325.3L153.9 321.4H149.1Z" fill="#2fa060"/>
<path d="M245.0 203.2L247.4 199.3H242.6Z" fill="#2fa060"/>
<path d="M228.9 225.2L231.3 221.3H226.5Z" fill="#2fa060"/>
<path d="M214.8 249.5L217.2 245.6H212.4Z" fill="#2fa060"/>
<path d="M202.0 256.1L204.4 252.2H199.6Z" fill="#2fa060"/>
<path d="M191.0 272.6L193.4 268.7H188.6Z" fill="#2fa060"/>
<path d="M181.1 279.2L183.5 275.3H178.7Z" fill="#2fa060"/>
<path d="M382.8 127.8L385.2 123.9H380.4Z" fill="#2fa060"/>
<path d="M410.1 103.9L412.5 100.0H407.7Z" fill="#2fa060"/>
<path d="M440.9 126.5L443.3 122.6H438.5Z" fill="#2fa060"/>
<path d="M469.8 123.9L472.2 120.0H467.4Z" fill="#2fa060"/>
<path d="M354.5 124.8L356.9 120.9H352.1Z" fill="#2fa060"/>
<path d="M329.3 141.1L331.7 137.2H326.9Z" fill="#2fa060"/>
<path d="M305.9 167.8L308.3 163.9H303.5Z" fill="#2fa060"/>
<path d="M306.1 168.2L308.5 164.3H303.7Z" fill="#2fa060"/>
<path d="M282.6 166.4L285.0 162.5H280.2Z" fill="#2fa060"/>
<path d="M263.8 196.7L266.2 192.8H261.4Z" fill="#2fa060"/>
<path d="M245.3 202.9L247.7 199.0H242.9Z" fill="#2fa060"/>
<path d="M202.2 256.7L204.6 252.8H199.8Z" fill="#2fa060"/>
<path d="M191.0 271.9L193.4 268.0H188.6Z" fill="#2fa060"/>
<path d="M180.4 279.9L182.8 276.0H178.0Z" fill="#2fa060"/>
<path d="M163.2 309.6L165.6 305.7H160.8Z" fill="#2fa060"/>
<path d="M155.3 310.9L157.7 307.0H152.9Z" fill="#2fa060"/>
<path d="M149.7 325.9L152.1 322.0H147.3Z" fill="#2fa060"/>
<path d="M145.1 333.8L147.5 329.9H142.7Z" fill="#2fa060"/>
<path d="M141.1 344.3L143.5 340.4H138.7Z" fill="#2fa060"/>
</g>
<g>
<path d="M145.6 332.4L148.0 334.8L145.6 337.2L143.2 334.8Z" fill="#a86ee0"/>
<path d="M144.4 336.1L146.8 338.5L144.4 340.9L142.0 338.5Z" fill="#a86ee0"/>
<path d="M143.0 335.0L145.4 337.4L143.0 339.8L140.6 337.4Z" fill="#a86ee0"/>
<path d="M142.0 343.3L144.4 345.7L142.0 348.1L139.6 345.7Z" fill="#a86ee0"/>
<path d="M140.6 340.1L143.0 342.5L140.6 344.9L138.2 342.5Z" fill="#a86ee0"/>
<path d="M139.1 339.3L141.5 341.7L139.1 344.1L136.7 341.7Z" fill="#a86ee0"/>
<path d="M137.7 344.1L140.1 346.5L137.7 348.9L135.3 346.5Z" fill="#a86ee0"/>
<path d="M136.4 344.5L138.8 346.9L136.4 349.3L134.0 346.9Z" fill="#a86ee0"/>
<path d="M134.9 345.9L137.3 348.3L134.9 350.7L132.5 348.3Z" fill="#a86ee0"/>
<path d="M133.9 355.8L136.3 358.2L133.9 360.6L131.5 358.2Z" fill="#a86ee0"/>
<path d="M132.8 345.7L135.2 348.1L132.8 350.5L130.4 348.1Z" fill="#a86ee0"/>
<path d="M131.1 353.7L133.5 356.1L131.1 358.5L128.7 356.1Z" fill="#a86ee0"/>
<path d="M129.9 352.8L132.3 355.2L129.9 357.6L127.5 355.2Z" fill="#a86ee0"/>
<path d="M128.9 353.3L131.3 355.7L128.9 358.1L126.5 355.7Z" fill="#a86ee0"/>
<path d="M127.8 358.0L130.2 360.4L127.8 362.8L125.4 360.4Z" fill="#a86ee0"/>
<path d="M126.8 358.6L129.2 361.0L126.8 363.4L124.4 361.0Z" fill="#a86ee0"/>
<path d="M125.3 364.5L127.7 366.9L125.3 369.3L122.9 366.9Z" fill="#a86ee0"/>
<path d="M124.1 369.5L126.5 371.9L124.1 374.3L121.7 371.9Z" fill="#a86ee0"/>
<path d="M122.7 365.2L125.1 367.6L122.7 370.0L120.3 367.6Z" fill="#a86ee0"/>
<path d="M121.2 370.8L123.6 373.2L121.2 375.6L118.8 373.2Z" fill="#a86ee0"/>
<path d="M119.6 371.3L122.0 373.7L119.6 376.1L117.2 373.7Z" fill="#a86ee0"/>
<path d="M118.3 373.9L120.7 376.3L118.3 378.7L115.9 376.3Z" fill="#a86ee0"/>
<path d="M117.7 378.8L120.1 381.2L117.7 383.6L115.3 381.2Z" fill="#a86ee0"/>
<path d="M116.8 372.3L119.2 374.7L116.8 377.1L114.4 374.7Z" fill="#a86ee0"/>
<path d="M116.0 377.9L118.4 380.3L116.0 382.7L113.6 380.3Z" fill="#a86ee0"/>
<path d="M115.5 382.2L117.9 384.6L115.5 387.0L113.1 384.6Z" fill="#a86ee0"/>
<path d="M114.7 374.3L117.1 376.7L114.7 379.1L112.3 376.7Z" fill="#a86ee0"/>
<path d="M113.9 377.1L116.3 379.5L113.9 381.9L111.5 379.5Z" fill="#a86ee0"/>
<path d="M113.5 382.3L115.9 384.7L113.5 387.1L111.1 384.7Z" fill="#a86ee0"/>
<path d="M112.7 383.0L115.1 385.4L112.7 387.8L110.3 385.4Z" fill="#a86ee0"/>
<path d="M112.2 375.7L114.6 378.1L112.2 380.5L109.8 378.1Z" fill="#a86ee0"/>
<path d="M111.6 387.8L114.0 390.2L111.6 392.6L109.2 390.2Z" fill="#a86ee0"/>
<path d="M111.0 382.7L113.4 385.1L111.0 387.5L108.6 385.1Z" fill="#a86ee0"/>
<path d="M110.4 382.6L112.8 385.0L110.4 387.4L108.0 385.0Z" fill="#a86ee0"/>
<path d="M109.6 381.6L112.0 384.0L109.6 386.4L107.2 384.0Z" fill="#a86ee0"/>
<path d="M109.1 379.0L111.5 381.4L109.1 383.8L106.7 381.4Z" fill="#a86ee0"/>
<path d="M108.4 387.8L110.8 390.2L108.4 392.6L106.0 390.2Z" fill="#a86ee0"/>
<path d="M107.9 379.7L110.3 382.1L107.9 384.5L105.5 382.1Z" fill="#a86ee0"/>
<path d="M107.1 382.2L109.5 384.6L107.1 387.0L104.7 384.6Z" fill="#a86ee0"/>
<path d="M106.2 381.8L108.6 384.2L106.2 386.6L103.8 384.2Z" fill="#a86ee0"/>
<path d="M105.6 378.2L108.0 380.6L105.6 383.0L103.2 380.6Z" fill="#a86ee0"/>
<path d="M105.0 376.2L107.4 378.6L105.0 381.0L102.6 378.6Z" fill="#a86ee0"/>
<path d="M104.2 387.5L106.6 389.9L104.2 392.3L101.8 389.9Z" fill="#a86ee0"/>
<path d="M103.7 381.8L106.1 384.2L103.7 386.6L101.3 384.2Z" fill="#a86ee0"/>
<path d="M102.8 377.3L105.2 379.7L102.8 382.1L100.4 379.7Z" fill="#a86ee0"/>
<path d="M102.2 378.0L104.6 380.4L102.2 382.8L99.8 380.4Z" fill="#a86ee0"/>
<path d="M101.7 376.7L104.1 379.1L101.7 381.5L99.3 379.1Z" fill="#a86ee0"/>
<path d="M101.1 376.8L103.5 379.2L101.1 381.6L98.7 379.2Z" fill="#a86ee0"/>
<path d="M100.5 374.0L102.9 376.4L100.5 378.8L98.1 376.4Z" fill="#a86ee0"/>
<path d="M100.0 366.3L102.4 368.7L100.0 371.1L97.6 368.7Z" fill="#a86ee0"/>
<path d="M99.2 367.2L101.6 369.6L99.2 372.0L96.8 369.6Z" fill="#a86ee0"/>
<path d="M98.6 376.3L101.0 378.7L98.6 381.1L96.2 378.7Z" fill="#a86ee0"/>
<path d="M97.8 367.4L100.2 369.8L97.8 372.2L95.4 369.8Z" fill="#a86ee0"/>
<path d="M97.0 364.5L99.4 366.9L97.0 369.3L94.6 366.9Z" fill="#a86ee0"/>
<path d="M96.2 362.7L98.6 365.1L96.2 367.5L93.8 365.1Z" fill="#a86ee0"/>
<path d="M95.7 358.4L98.1 360.8L95.7 363.2L93.3 360.8Z" fill="#a86ee0"/>
<path d="M95.2 362.8L97.6 365.2L95.2 367.6L92.8 365.2Z" fill="#a86ee0"/>
<path d="M94.6 369.0L97.0 371.4L94.6 373.8L92.2 371.4Z" fill="#a86ee0"/>
<path d="M94.0 366.9L96.4 369.3L94.0 371.7L91.6 369.3Z" fill="#a86ee0"/>
<path d="M93.4 363.9L95.8 366.3L93.4 368.7L91.0 366.3Z" fill="#a86ee0"/>
<path d="M92.9 365.4L95.3 367.8L92.9 370.2L90.5 367.8Z" fill="#a86ee0"/>
<path d="M92.0 359.9L94.4 362.3L92.0 364.7L89.6 362.3Z" fill="#a86ee0"/>
<path d="M91.4 363.0L93.8 365.4L91.4 367.8L89.0 365.4Z" fill="#a86ee0"/>
<path d="M90.9 364.0L93.3 366.4L90.9 368.8L88.5 366.4Z" fill="#a86ee0"/>
<path d="M90.1 361.6L92.5 364.0L90.1 366.4L87.7 364.0Z" fill="#a86ee0"/>
<path d="M89.6 367.2L92.0 369.6L89.6 372.0L87.2 369.6Z" fill="#a86ee0"/>
<path d="M88.9 362.3L91.3 364.7L88.9 367.1L86.5 364.7Z" fill="#a86ee0"/>
<path d="M88.4 361.3L90.8 363.7L88.4 366.1L86.0 363.7Z" fill="#a86ee0"/>
<path d="M87.6 364.6L90.0 367.0L87.6 369.4L85.2 367.0Z" fill="#a86ee0"/>
<path d="M87.1 367.9L89.5 370.3L87.1 372.7L84.7 370.3Z" fill="#a86ee0"/>
<path d="M86.6 365.9L89.0 368.3L86.6 370.7L84.2 368.3Z" fill="#a86ee0"/>
<path d="M86.0 363.3L88.4 365.7L86.0 368.1L83.6 365.7Z" fill="#a86ee0"/>
<path d="M85.4 367.0L87.8 369.4L85.4 371.8L83.0 369.4Z" fill="#a86ee0"/>
<path d="M84.9 364.4L87.3 366.8L84.9 369.2L82.5 366.8Z" fill="#a86ee0"/>
<path d="M84.3 360.0L86.7 362.4L84.3 364.8L81.9 362.4Z" fill="#a86ee0"/>
<path d="M83.8 365.4L86.2 367.8L83.8 370.2L81.4 367.8Z" fill="#a86ee0"/>
<path d="M83.2 361.7L85.6 364.1L83.2 366.5L80.8 364.1Z" fill="#a86ee0"/>
<path d="M82.5 361.3L84.9 363.7L82.5 366.1L80.1 363.7Z" fill="#a86ee0"/>
<path d="M81.7 364.7L84.1 367.1L81.7 369.5L79.3 367.1Z" fill="#a86ee0"/>
<path d="M81.2 362.9L83.6 365.3L81.2 367.7L78.8 365.3Z" fill="#a86ee0"/>
<path d="M80.5 365.3L82.9 367.7L80.5 370.1L78.1 367.7Z" fill="#a86ee0"/>
<path d="M79.8 363.5L82.2 365.9L79.8 368.3L77.4 365.9Z" fill="#a86ee0"/>
<path d="M79.1 363.7L81.5 366.1L79.1 368.5L76.7 366.1Z" fill="#a86ee0"/>
<path d="M78.4 363.5L80.8 365.9L78.4 368.3L76.0 365.9Z" fill="#a86ee0"/>
<path d="M77.7 364.0L80.1 366.4L77.7 368.8L75.3 366.4Z" fill="#a86ee0"/>
<path d="M77.1 360.3L79.5 362.7L77.1 365.1L74.7 362.7Z" fill="#a86ee0"/>
<path d="M76.4 365.4L78.8 367.8L76.4 370.2L74.0 367.8Z" fill="#a86ee0"/>
<path d="M75.6 365.7L78.0 368.1L75.6 370.5L73.2 368.1Z" fill="#a86ee0"/>
<path d="M75.1 370.2L77.5 372.6L75.1 375.0L72.7 372.6Z" fill="#a86ee0"/>
<path d="M74.4 370.2L76.8 372.6L74.4 375.0L72.0 372.6Z" fill="#a86ee0"/>
<path d="M73.7 368.8L76.1 371.2L73.7 373.6L71.3 371.2Z" fill="#a86ee0"/>
<path d="M72.9 373.9L75.3 376.3L72.9 378.7L70.5 376.3Z" fill="#a86ee0"/>
<path d="M72.3 379.0L74.7 381.4L72.3 383.8L69.9 381.4Z" fill="#a86ee0"/>
<path d="M71.7 387.8L74.1 390.2L71.7 392.6L69.3 390.2Z" fill="#a86ee0"/>
<path d="M199.1 261.7L201.5 264.1L199.1 266.5L196.7 264.1Z" fill="#a86ee0"/>
<path d="M185.8 267.0L188.2 269.4L185.8 271.8L183.4 269.4Z" fill="#a86ee0"/>
<path d="M173.5 285.5L175.9 287.9L173.5 290.3L171.1 287.9Z" fill="#a86ee0"/>
<path d="M164.7 300.5L167.1 302.9L164.7 305.3L162.3 302.9Z" fill="#a86ee0"/>
<path d="M156.8 317.3L159.2 319.7L156.8 322.1L154.4 319.7Z" fill="#a86ee0"/>
<path d="M251.0 203.1L253.4 205.5L251.0 207.9L248.6 205.5Z" fill="#a86ee0"/>
<path d="M231.8 218.5L234.2 220.9L231.8 223.3L229.4 220.9Z" fill="#a86ee0"/>
<path d="M214.2 239.5L216.6 241.9L214.2 244.3L211.8 241.9Z" fill="#a86ee0"/>
<path d="M199.4 262.0L201.8 264.4L199.4 266.8L197.0 264.4Z" fill="#a86ee0"/>
<path d="M185.5 267.0L187.9 269.4L185.5 271.8L183.1 269.4Z" fill="#a86ee0"/>
<path d="M398.1 100.7L400.5 103.1L398.1 105.5L395.7 103.1Z" fill="#a86ee0"/>
<path d="M436.3 132.3L438.7 134.7L436.3 137.1L433.9 134.7Z" fill="#a86ee0"/>
<path d="M470.9 56.7L473.3 59.1L470.9 61.5L468.5 59.1Z" fill="#a86ee0"/>
<path d="M362.1 112.4L364.5 114.8L362.1 117.2L359.7 114.8Z" fill="#a86ee0"/>
<path d="M330.1 142.5L332.5 144.9L330.1 147.3L327.7 144.9Z" fill="#a86ee0"/>
<path d="M301.0 157.4L303.4 159.8L301.0 162.2L298.6 159.8Z" fill="#a86ee0"/>
<path d="M300.8 157.9L303.2 160.3L300.8 162.7L298.4 160.3Z" fill="#a86ee0"/>
<path d="M274.9 171.6L277.3 174.0L274.9 176.4L272.5 174.0Z" fill="#a86ee0"/>
<path d="M251.5 203.7L253.9 206.1L251.5 208.5L249.1 206.1Z" fill="#a86ee0"/>
<path d="M199.2 262.1L201.6 264.5L199.2 266.9L196.8 264.5Z" fill="#a86ee0"/>
<path d="M186.0 267.2L188.4 269.6L186.0 272.0L183.6 269.6Z" fill="#a86ee0"/>
<path d="M173.1 285.9L175.5 288.3L173.1 290.7L170.7 288.3Z" fill="#a86ee0"/>
<path d="M164.5 301.8L166.9 304.2L164.5 306.6L162.1 304.2Z" fill="#a86ee0"/>
<path d="M155.6 310.8L158.0 313.2L155.6 315.6L153.2 313.2Z" fill="#a86ee0"/>
<path d="M146.4 330.6L148.8 333.0L146.4 335.4L144.0 333.0Z" fill="#a86ee0"/>
</g>
<g stroke="#1a1a1a" stroke-width="1.7" fill="none">
<line x1="71.7" y1="14.2" x2="71.7" y2="391.3"/>
<line x1="70.9" y1="390.5" x2="538.3" y2="390.5"/>
<line x1="64.7" y1="390.5" x2="71.7" y2="390.5"/>
<line x1="67.7" y1="367.0" x2="71.7" y2="367.0"/>
<line x1="64.7" y1="343.6" x2="71.7" y2="343.6"/>
<line x1="67.7" y1="320.1" x2="71.7" y2="320.1"/>
<line x1="64.7" y1="296.6" x2="71.7" y2="296.6"/>
<line x1="67.7" y1="273.1" x2="71.7" y2="273.1"/>
<line x1="64.7" y1="249.7" x2="71.7" y2="249.7"/>
<line x1="67.7" y1="226.2" x2="71.7" y2="226.2"/>
<line x1="64.7" y1="202.7" x2="71.7" y2="202.7"/>
<line x1="67.7" y1="179.2" x2="71.7" y2="179.2"/>
<line x1="64.7" y1="155.8" x2="71.7" y2="155.8"/>
<line x1="67.7" y1="132.3" x2="71.7" y2="132.3"/>
<line x1="64.7" y1="108.8" x2="71.7" y2="108.8"/>
<line x1="67.7" y1="85.3" x2="71.7" y2="85.3"/>
<line x1="64.7" y1="61.9" x2="71.7" y2="61.9"/>
<line x1="67.7" y1="38.4" x2="71.7" y2="38.4"/>
<line x1="64.7" y1="14.9" x2="71.7" y2="14.9"/>
<line x1="71.7" y1="390.5" x2="71.7" y2="397.5"/>
<line x1="110.5" y1="390.5" x2="110.5" y2="394.5"/>
<line x1="149.3" y1="390.5" x2="149.3" y2="397.5"/>
<line x1="188.1" y1="390.5" x2="188.1" y2="394.5"/>
<line x1="227.0" y1="390.5" x2="227.0" y2="397.5"/>
<line x1="265.8" y1="390.5" x2="265.8" y2="394.5"/>
<line x1="304.6" y1="390.5" x2="304.6" y2="397.5"/>
<line x1="343.4" y1="390.5" x2="343.4" y2="394.5"/>
<line x1="382.2" y1="390.5" x2="382.2" y2="397.5"/>
<line x1="421.0" y1="390.5" x2="421.0" y2="394.5"/>
<line x1="459.8" y1="390.5" x2="459.8" y2="397.5"/>
<line x1="498.7" y1="390.5" x2="498.7" y2="394.5"/>
<line x1="537.5" y1="390.5" x2="537.5" y2="397.5"/>
</g>
<g class="t" font-size="16">
<text x="59.3" y="395.9" text-anchor="end">0</text>
<text x="59.3" y="348.9" text-anchor="end">50</text>
<text x="59.3" y="302.0" text-anchor="end">100</text>
<text x="59.3" y="255.1" text-anchor="end">150</text>
<text x="59.3" y="208.1" text-anchor="end">200</text>
<text x="59.3" y="161.2" text-anchor="end">250</text>
<text x="59.3" y="114.2" text-anchor="end">300</text>
<text x="59.3" y="67.3" text-anchor="end">350</text>
<text x="59.3" y="20.3" text-anchor="end">400</text>
<text x="71.7" y="416.0" text-anchor="middle">0</text>
<text x="149.3" y="416.0" text-anchor="middle">10</text>
<text x="227.0" y="416.0" text-anchor="middle">20</text>
<text x="304.6" y="416.0" text-anchor="middle">30</text>
<text x="382.2" y="416.0" text-anchor="middle">40</text>
<text x="459.8" y="416.0" text-anchor="middle">50</text>
<text x="537.5" y="416.0" text-anchor="middle">60</text>
</g>
<text class="t" x="305.2" y="445.8" text-anchor="middle" font-size="19.5">Surface Pressure (mN/m)</text>
<text class="t" transform="translate(24.9,202.4) rotate(-90)" text-anchor="middle" font-size="19.7">Compression Modulus (mN/m)</text>
<rect x="95.6" y="21.7" width="3.6" height="3.6" fill="#3d3d3d"/>
<text class="t" x="117.5" y="28.1" font-size="14">Rate 5/5 mm/min</text>
<circle cx="97.4" cy="40.8" r="2.05" fill="#ee3b3b"/>
<text class="t" x="117.5" y="45.4" font-size="14">Rate 10/10 mm/min</text>
<path d="M97.4 56.1L99.8 60.0H95.0Z" fill="#1f64d8"/>
<text class="t" x="117.5" y="62.8" font-size="14">Rate 15/15 mm/min</text>
<path d="M97.4 77.7L99.8 73.8H95.0Z" fill="#2fa060"/>
<text class="t" x="117.5" y="80.2" font-size="14">Rate 20/20 mm/min</text>
<path d="M97.4 90.6L99.8 93.0L97.4 95.4L95.0 93.0Z" fill="#a86ee0"/>
<text class="t" x="117.5" y="97.6" font-size="14">Rate 25/25 mm/min</text>
<rect x="363.3" y="204.8" width="174.3" height="155.3" fill="#fff"/>
<polyline points="363.3,346.1 365.1,299.6 365.3,261.6 366.8,278.8 368.5,272.0 370.4,273.3 372.4,277.1 372.5,233.9 374.2,274.6 374.3,326.7 376.9,269.7 377.0,318.1 379.7,268.3 379.8,306.7 382.4,264.5 382.5,221.6 385.3,265.3 387.0,276.5 389.3,261.1 389.4,281.1 391.0,252.0 393.7,261.4 393.9,231.7 395.3,259.0 396.7,238.0 399.4,266.4 399.5,221.7 401.6,248.8 401.8,217.2 404.7,257.7 404.9,300.2 407.1,257.3 408.8,260.2 409.0,223.2 411.2,262.8 411.3,223.4 414.0,263.8 414.2,231.3 416.8,251.4 417.0,271.0 418.9,267.9 419.0,226.0 421.2,265.2 423.1,253.3 423.2,227.9 425.6,265.2 427.5,261.6 427.6,219.2 430.1,266.6 430.2,230.3 432.5,280.4 433.9,285.7 434.1,243.6 436.1,262.8 436.2,219.0 438.4,286.9 438.5,328.7 440.9,298.5 442.2,314.7 442.4,284.1 444.4,322.3 446.3,311.9 447.3,318.3 447.4,271.7 448.6,327.4 448.8,281.8 450.1,327.4 450.2,305.4 451.3,324.9 451.5,353.3 453.4,314.4 453.5,276.9 455.3,343.2 456.4,322.6 456.5,277.3 457.6,333.5 459.6,330.2 459.7,359.5 460.6,335.7 460.8,358.6 462.4,331.4 462.5,280.3 463.5,318.6 463.7,296.7 465.2,306.0 465.3,279.7 467.2,323.5 467.3,359.5 469.3,318.1 470.9,316.0 471.0,268.4 472.0,339.6 472.1,359.5 473.7,324.7 473.8,351.0 475.2,324.5 476.9,347.5 479.0,337.1 479.1,287.2 481.1,338.1 482.5,319.9 482.7,290.9 484.3,317.9 485.7,307.8 487.4,317.8 487.5,298.4 489.6,336.6 491.3,312.2 491.4,286.2 493.7,297.3 493.9,251.6 495.6,314.0 498.3,310.1 500.2,295.6 500.3,269.8 502.3,293.0 504.3,315.4 506.6,316.9 508.8,316.5 511.3,300.5 512.9,311.8 515.7,282.8 515.8,250.1 517.8,279.2 520.4,279.8 520.5,235.5 522.1,277.3 525.0,280.7 525.1,240.6 527.0,269.9 529.1,273.0 529.2,249.7 531.8,283.9 534.7,252.1 536.3,264.8" fill="none" stroke="#b4b4b4" stroke-width="0.6"/>
<polyline points="363.3,350.3 365.0,321.0 367.3,291.5 369.2,280.7 369.3,248.2 372.0,278.5 373.5,265.7 373.6,235.5 376.1,272.3 379.0,268.0 380.4,278.2 380.5,246.7 382.2,262.5 384.4,265.3 384.5,243.1 387.3,271.2 390.2,275.1 391.9,253.9 392.1,229.0 394.4,276.8 394.5,309.0 396.7,277.3 399.3,271.4 399.5,295.7 402.4,275.1 402.5,257.8 404.1,264.3 406.4,275.5 406.5,237.7 408.1,272.1 410.3,290.7 412.9,285.1 414.8,276.0 414.9,307.4 416.5,265.8 418.2,277.8 420.2,283.4 422.8,277.4 424.3,271.1 427.0,274.7 428.8,290.2 431.3,283.7 433.6,290.1 435.6,284.2 438.1,283.4 440.2,306.3 442.5,312.4 444.1,296.0 444.2,331.3 446.1,324.0 447.3,315.6 448.3,316.6 448.5,354.8 449.7,326.3 450.6,340.2 451.8,334.1 452.8,334.7 453.8,337.8 455.3,329.3 457.0,355.1 458.1,337.5 459.5,324.8 459.6,285.4 461.1,339.5 462.5,338.6 462.6,313.1 463.9,338.0 465.6,334.7 465.7,309.7 467.7,326.7 467.9,310.8 469.5,343.8 470.8,330.6 471.9,341.1 473.3,359.5 473.4,359.5 475.0,345.6 476.4,350.5 476.5,330.9 477.7,320.6 477.8,294.8 479.7,338.2 481.3,333.5 481.4,359.5 483.2,322.4 484.3,331.7 485.6,319.1 487.5,330.8 488.8,336.5 488.9,359.5 491.0,322.5 493.5,331.4 493.7,308.0 496.4,309.6 496.5,277.1 498.6,313.6 501.6,317.2 501.7,286.0 503.4,321.2 503.5,281.0 505.9,297.5 507.8,280.2 510.5,276.4 510.7,246.4 512.4,303.5 515.0,289.0 517.9,311.1 519.5,308.7 521.4,281.9 521.5,263.4 524.0,280.1 525.9,261.1 527.8,276.1 529.3,256.5 531.6,236.3 533.4,235.7 536.1,262.7" fill="none" stroke="#f4aaaa" stroke-width="0.6"/>
<polyline points="363.3,352.8 365.5,299.2 368.2,306.2 369.5,296.7 370.9,275.3 373.6,267.7 374.9,280.9 377.8,290.5 377.9,268.8 380.6,279.4 383.4,286.4 385.9,281.9 386.0,255.7 388.9,270.1 391.0,276.9 393.9,252.1 395.6,281.2 398.1,260.9 400.7,279.2 403.6,289.9 406.6,263.3 409.0,263.7 410.3,271.1 412.1,266.4 413.8,267.4 416.8,257.9 416.9,240.7 419.8,271.7 421.3,272.2 424.4,277.9 425.9,283.3 428.7,280.0 431.6,274.2 431.7,253.9 434.2,283.4 436.8,294.5 438.8,306.2 441.6,301.1 443.0,327.8 444.5,324.4 446.4,320.7 448.5,320.9 450.3,333.1 450.5,319.6 452.1,326.9 453.1,329.6 454.6,341.9 454.7,318.7 455.6,339.0 456.5,331.7 457.6,340.1 459.4,323.1 460.4,344.4 461.3,316.8 463.0,358.0 464.0,334.4 465.3,339.6 466.7,344.5 468.6,330.1 469.9,333.1 470.0,319.4 471.8,335.6 472.0,319.3 473.7,335.6 473.8,317.2 475.8,348.4 477.1,351.3 478.1,332.2 479.6,341.8 481.5,331.6 482.7,336.9 484.9,350.5 485.0,359.5 486.2,330.5 486.3,353.7 488.2,319.6 489.5,318.9 490.4,319.8 492.3,322.6 493.9,310.8 496.6,315.3 499.0,321.4 501.7,322.1 504.2,303.7 505.6,314.8 507.1,320.7 508.8,295.8 510.6,313.6 510.7,286.0 513.4,295.7 516.3,297.2 517.8,277.8 520.0,309.3 522.8,293.9 523.0,270.6 524.8,289.3 524.9,269.7 527.7,284.6 530.2,274.4 533.1,276.6 533.2,254.5 536.2,258.4 536.3,239.2" fill="none" stroke="#a8c0ee" stroke-width="0.6"/>
<polyline points="363.3,340.1 363.4,322.8 365.5,304.6 367.1,303.8 369.4,291.3 370.9,297.4 371.0,323.0 373.7,294.2 375.9,278.9 378.9,284.6 379.0,257.0 380.6,298.6 382.2,287.3 384.9,267.6 385.1,284.5 387.3,283.4 390.4,282.8 392.6,279.3 394.3,280.0 395.6,278.0 397.2,278.1 399.0,267.7 401.2,270.2 402.6,277.2 405.2,272.6 407.7,279.0 410.3,268.2 412.7,257.1 414.7,269.5 416.2,274.3 417.8,278.3 419.6,283.6 422.1,273.8 422.2,297.9 424.8,283.0 426.9,263.5 429.8,284.9 432.1,270.9 433.4,278.7 436.2,302.4 437.8,309.4 439.2,296.2 440.6,313.1 442.1,304.8 443.7,335.4 445.0,321.3 446.7,322.7 448.1,344.5 450.2,318.7 451.2,328.0 452.3,322.6 453.5,346.0 454.9,341.4 456.4,337.5 456.6,315.1 458.0,340.2 459.9,331.9 461.7,350.0 463.5,340.9 465.5,351.1 467.5,341.9 469.3,334.3 470.5,350.3 472.1,336.5 473.7,324.9 475.1,341.1 476.3,337.0 477.9,323.5 479.3,336.4 480.3,319.5 482.4,339.4 483.6,328.3 485.1,337.1 487.2,323.3 488.4,331.1 489.6,312.5 489.7,287.2 492.5,314.8 492.6,289.9 494.6,323.5 496.4,303.3 498.6,305.3 500.8,315.0 503.3,291.4 505.9,302.3 508.6,302.5 510.6,304.5 512.2,302.9 513.8,312.0 515.6,296.7 516.9,309.5 519.0,283.6 521.2,292.8 524.2,287.3 526.3,291.4 528.7,270.4 530.1,289.2 530.3,273.6 531.8,278.5 534.0,285.1 536.0,262.7" fill="none" stroke="#a8d6b8" stroke-width="0.6"/>
<polyline points="363.3,358.0 365.2,302.7 367.9,288.3 370.6,297.2 372.3,294.3 374.0,283.5 374.1,272.9 376.0,288.3 378.6,277.1 381.5,283.9 383.0,281.6 385.9,305.4 387.8,285.3 389.6,278.4 391.7,291.0 394.6,267.3 394.7,256.0 397.1,272.5 398.6,279.2 401.5,290.4 404.2,279.1 406.2,267.0 408.4,278.7 411.0,276.5 412.7,271.4 414.8,272.1 416.9,265.2 419.5,267.1 422.1,274.5 422.2,251.9 424.9,287.7 426.5,295.9 429.4,279.2 429.6,269.6 432.4,287.9 432.5,263.1 434.3,274.8 435.9,276.0 438.4,296.5 438.6,282.3 440.8,310.0 442.7,315.5 442.9,305.8 444.4,327.9 444.5,307.5 445.7,327.0 446.7,346.9 448.2,330.6 449.4,335.7 451.3,342.0 452.6,345.6 453.9,335.2 455.5,333.5 457.1,349.7 458.6,344.2 460.6,336.1 462.7,348.2 464.0,343.4 466.0,339.0 467.8,351.7 469.6,330.3 471.2,345.3 473.1,357.0 475.3,335.1 476.4,343.2 476.5,327.1 478.6,346.2 480.2,344.1 481.5,336.9 481.6,358.0 482.6,345.8 483.9,335.1 484.8,325.4 486.8,340.1 488.1,320.9 490.0,321.9 492.8,321.3 495.2,326.6 497.3,328.0 499.1,319.5 501.8,304.3 504.2,304.7 506.5,319.0 509.0,306.2 510.6,314.7 512.4,288.1 513.8,301.7 515.4,299.6 517.2,300.6 517.4,282.4 519.3,300.3 519.4,286.9 522.0,294.4 523.5,294.0 525.5,285.9 528.0,285.6 531.0,275.6 533.5,281.8 536.1,262.7" fill="none" stroke="#d2b8f0" stroke-width="0.6"/>
<circle cx="363.3" cy="346.1" r="0.95" fill="#3d3d3d"/>
<circle cx="365.1" cy="299.6" r="0.95" fill="#3d3d3d"/>
<circle cx="365.3" cy="261.6" r="0.95" fill="#3d3d3d"/>
<circle cx="366.8" cy="278.8" r="0.95" fill="#3d3d3d"/>
<circle cx="368.5" cy="272.0" r="0.95" fill="#3d3d3d"/>
<circle cx="370.4" cy="273.3" r="0.95" fill="#3d3d3d"/>
<circle cx="372.4" cy="277.1" r="0.95" fill="#3d3d3d"/>
<circle cx="372.5" cy="233.9" r="0.95" fill="#3d3d3d"/>
<circle cx="374.2" cy="274.6" r="0.95" fill="#3d3d3d"/>
<circle cx="374.3" cy="326.7" r="0.95" fill="#3d3d3d"/>
<circle cx="376.9" cy="269.7" r="0.95" fill="#3d3d3d"/>
<circle cx="377.0" cy="318.1" r="0.95" fill="#3d3d3d"/>
<circle cx="379.7" cy="268.3" r="0.95" fill="#3d3d3d"/>
<circle cx="379.8" cy="306.7" r="0.95" fill="#3d3d3d"/>
<circle cx="382.4" cy="264.5" r="0.95" fill="#3d3d3d"/>
<circle cx="382.5" cy="221.6" r="0.95" fill="#3d3d3d"/>
<circle cx="385.3" cy="265.3" r="0.95" fill="#3d3d3d"/>
<circle cx="387.0" cy="276.5" r="0.95" fill="#3d3d3d"/>
<circle cx="389.3" cy="261.1" r="0.95" fill="#3d3d3d"/>
<circle cx="389.4" cy="281.1" r="0.95" fill="#3d3d3d"/>
<circle cx="391.0" cy="252.0" r="0.95" fill="#3d3d3d"/>
<circle cx="393.7" cy="261.4" r="0.95" fill="#3d3d3d"/>
<circle cx="393.9" cy="231.7" r="0.95" fill="#3d3d3d"/>
<circle cx="395.3" cy="259.0" r="0.95" fill="#3d3d3d"/>
<circle cx="396.7" cy="238.0" r="0.95" fill="#3d3d3d"/>
<circle cx="399.4" cy="266.4" r="0.95" fill="#3d3d3d"/>
<circle cx="399.5" cy="221.7" r="0.95" fill="#3d3d3d"/>
<circle cx="401.6" cy="248.8" r="0.95" fill="#3d3d3d"/>
<circle cx="401.8" cy="217.2" r="0.95" fill="#3d3d3d"/>
<circle cx="404.7" cy="257.7" r="0.95" fill="#3d3d3d"/>
<circle cx="404.9" cy="300.2" r="0.95" fill="#3d3d3d"/>
<circle cx="407.1" cy="257.3" r="0.95" fill="#3d3d3d"/>
<circle cx="408.8" cy="260.2" r="0.95" fill="#3d3d3d"/>
<circle cx="409.0" cy="223.2" r="0.95" fill="#3d3d3d"/>
<circle cx="411.2" cy="262.8" r="0.95" fill="#3d3d3d"/>
<circle cx="411.3" cy="223.4" r="0.95" fill="#3d3d3d"/>
<circle cx="414.0" cy="263.8" r="0.95" fill="#3d3d3d"/>
<circle cx="414.2" cy="231.3" r="0.95" fill="#3d3d3d"/>
<circle cx="416.8" cy="251.4" r="0.95" fill="#3d3d3d"/>
<circle cx="417.0" cy="271.0" r="0.95" fill="#3d3d3d"/>
<circle cx="418.9" cy="267.9" r="0.95" fill="#3d3d3d"/>
<circle cx="419.0" cy="226.0" r="0.95" fill="#3d3d3d"/>
<circle cx="421.2" cy="265.2" r="0.95" fill="#3d3d3d"/>
<circle cx="423.1" cy="253.3" r="0.95" fill="#3d3d3d"/>
<circle cx="423.2" cy="227.9" r="0.95" fill="#3d3d3d"/>
<circle cx="425.6" cy="265.2" r="0.95" fill="#3d3d3d"/>
<circle cx="427.5" cy="261.6" r="0.95" fill="#3d3d3d"/>
<circle cx="427.6" cy="219.2" r="0.95" fill="#3d3d3d"/>
<circle cx="430.1" cy="266.6" r="0.95" fill="#3d3d3d"/>
<circle cx="430.2" cy="230.3" r="0.95" fill="#3d3d3d"/>
<circle cx="432.5" cy="280.4" r="0.95" fill="#3d3d3d"/>
<circle cx="433.9" cy="285.7" r="0.95" fill="#3d3d3d"/>
<circle cx="434.1" cy="243.6" r="0.95" fill="#3d3d3d"/>
<circle cx="436.1" cy="262.8" r="0.95" fill="#3d3d3d"/>
<circle cx="436.2" cy="219.0" r="0.95" fill="#3d3d3d"/>
<circle cx="438.4" cy="286.9" r="0.95" fill="#3d3d3d"/>
<circle cx="438.5" cy="328.7" r="0.95" fill="#3d3d3d"/>
<circle cx="440.9" cy="298.5" r="0.95" fill="#3d3d3d"/>
<circle cx="442.2" cy="314.7" r="0.95" fill="#3d3d3d"/>
<circle cx="442.4" cy="284.1" r="0.95" fill="#3d3d3d"/>
<circle cx="444.4" cy="322.3" r="0.95" fill="#3d3d3d"/>
<circle cx="446.3" cy="311.9" r="0.95" fill="#3d3d3d"/>
<circle cx="447.3" cy="318.3" r="0.95" fill="#3d3d3d"/>
<circle cx="447.4" cy="271.7" r="0.95" fill="#3d3d3d"/>
<circle cx="448.6" cy="327.4" r="0.95" fill="#3d3d3d"/>
<circle cx="448.8" cy="281.8" r="0.95" fill="#3d3d3d"/>
<circle cx="450.1" cy="327.4" r="0.95" fill="#3d3d3d"/>
<circle cx="450.2" cy="305.4" r="0.95" fill="#3d3d3d"/>
<circle cx="451.3" cy="324.9" r="0.95" fill="#3d3d3d"/>
<circle cx="451.5" cy="353.3" r="0.95" fill="#3d3d3d"/>
<circle cx="453.4" cy="314.4" r="0.95" fill="#3d3d3d"/>
<circle cx="453.5" cy="276.9" r="0.95" fill="#3d3d3d"/>
<circle cx="455.3" cy="343.2" r="0.95" fill="#3d3d3d"/>
<circle cx="456.4" cy="322.6" r="0.95" fill="#3d3d3d"/>
<circle cx="456.5" cy="277.3" r="0.95" fill="#3d3d3d"/>
<circle cx="457.6" cy="333.5" r="0.95" fill="#3d3d3d"/>
<circle cx="459.6" cy="330.2" r="0.95" fill="#3d3d3d"/>
<circle cx="459.7" cy="359.5" r="0.95" fill="#3d3d3d"/>
<circle cx="460.6" cy="335.7" r="0.95" fill="#3d3d3d"/>
<circle cx="460.8" cy="358.6" r="0.95" fill="#3d3d3d"/>
<circle cx="462.4" cy="331.4" r="0.95" fill="#3d3d3d"/>
<circle cx="462.5" cy="280.3" r="0.95" fill="#3d3d3d"/>
<circle cx="463.5" cy="318.6" r="0.95" fill="#3d3d3d"/>
<circle cx="463.7" cy="296.7" r="0.95" fill="#3d3d3d"/>
<circle cx="465.2" cy="306.0" r="0.95" fill="#3d3d3d"/>
<circle cx="465.3" cy="279.7" r="0.95" fill="#3d3d3d"/>
<circle cx="467.2" cy="323.5" r="0.95" fill="#3d3d3d"/>
<circle cx="467.3" cy="359.5" r="0.95" fill="#3d3d3d"/>
<circle cx="469.3" cy="318.1" r="0.95" fill="#3d3d3d"/>
<circle cx="470.9" cy="316.0" r="0.95" fill="#3d3d3d"/>
<circle cx="471.0" cy="268.4" r="0.95" fill="#3d3d3d"/>
<circle cx="472.0" cy="339.6" r="0.95" fill="#3d3d3d"/>
<circle cx="472.1" cy="359.5" r="0.95" fill="#3d3d3d"/>
<circle cx="473.7" cy="324.7" r="0.95" fill="#3d3d3d"/>
<circle cx="473.8" cy="351.0" r="0.95" fill="#3d3d3d"/>
<circle cx="475.2" cy="324.5" r="0.95" fill="#3d3d3d"/>
<circle cx="476.9" cy="347.5" r="0.95" fill="#3d3d3d"/>
<circle cx="479.0" cy="337.1" r="0.95" fill="#3d3d3d"/>
<circle cx="479.1" cy="287.2" r="0.95" fill="#3d3d3d"/>
<circle cx="481.1" cy="338.1" r="0.95" fill="#3d3d3d"/>
<circle cx="482.5" cy="319.9" r="0.95" fill="#3d3d3d"/>
<circle cx="482.7" cy="290.9" r="0.95" fill="#3d3d3d"/>
<circle cx="484.3" cy="317.9" r="0.95" fill="#3d3d3d"/>
<circle cx="485.7" cy="307.8" r="0.95" fill="#3d3d3d"/>
<circle cx="487.4" cy="317.8" r="0.95" fill="#3d3d3d"/>
<circle cx="487.5" cy="298.4" r="0.95" fill="#3d3d3d"/>
<circle cx="489.6" cy="336.6" r="0.95" fill="#3d3d3d"/>
<circle cx="491.3" cy="312.2" r="0.95" fill="#3d3d3d"/>
<circle cx="491.4" cy="286.2" r="0.95" fill="#3d3d3d"/>
<circle cx="493.7" cy="297.3" r="0.95" fill="#3d3d3d"/>
<circle cx="493.9" cy="251.6" r="0.95" fill="#3d3d3d"/>
<circle cx="495.6" cy="314.0" r="0.95" fill="#3d3d3d"/>
<circle cx="498.3" cy="310.1" r="0.95" fill="#3d3d3d"/>
<circle cx="500.2" cy="295.6" r="0.95" fill="#3d3d3d"/>
<circle cx="500.3" cy="269.8" r="0.95" fill="#3d3d3d"/>
<circle cx="502.3" cy="293.0" r="0.95" fill="#3d3d3d"/>
<circle cx="504.3" cy="315.4" r="0.95" fill="#3d3d3d"/>
<circle cx="506.6" cy="316.9" r="0.95" fill="#3d3d3d"/>
<circle cx="508.8" cy="316.5" r="0.95" fill="#3d3d3d"/>
<circle cx="511.3" cy="300.5" r="0.95" fill="#3d3d3d"/>
<circle cx="512.9" cy="311.8" r="0.95" fill="#3d3d3d"/>
<circle cx="515.7" cy="282.8" r="0.95" fill="#3d3d3d"/>
<circle cx="515.8" cy="250.1" r="0.95" fill="#3d3d3d"/>
<circle cx="517.8" cy="279.2" r="0.95" fill="#3d3d3d"/>
<circle cx="520.4" cy="279.8" r="0.95" fill="#3d3d3d"/>
<circle cx="520.5" cy="235.5" r="0.95" fill="#3d3d3d"/>
<circle cx="522.1" cy="277.3" r="0.95" fill="#3d3d3d"/>
<circle cx="525.0" cy="280.7" r="0.95" fill="#3d3d3d"/>
<circle cx="525.1" cy="240.6" r="0.95" fill="#3d3d3d"/>
<circle cx="527.0" cy="269.9" r="0.95" fill="#3d3d3d"/>
<circle cx="529.1" cy="273.0" r="0.95" fill="#3d3d3d"/>
<circle cx="529.2" cy="249.7" r="0.95" fill="#3d3d3d"/>
<circle cx="531.8" cy="283.9" r="0.95" fill="#3d3d3d"/>
<circle cx="534.7" cy="252.1" r="0.95" fill="#3d3d3d"/>
<circle cx="536.3" cy="264.8" r="0.95" fill="#3d3d3d"/>
<circle cx="363.3" cy="350.3" r="0.95" fill="#ee3b3b"/>
<circle cx="365.0" cy="321.0" r="0.95" fill="#ee3b3b"/>
<circle cx="367.3" cy="291.5" r="0.95" fill="#ee3b3b"/>
<circle cx="369.2" cy="280.7" r="0.95" fill="#ee3b3b"/>
<circle cx="369.3" cy="248.2" r="0.95" fill="#ee3b3b"/>
<circle cx="372.0" cy="278.5" r="0.95" fill="#ee3b3b"/>
<circle cx="373.5" cy="265.7" r="0.95" fill="#ee3b3b"/>
<circle cx="373.6" cy="235.5" r="0.95" fill="#ee3b3b"/>
<circle cx="376.1" cy="272.3" r="0.95" fill="#ee3b3b"/>
<circle cx="379.0" cy="268.0" r="0.95" fill="#ee3b3b"/>
<circle cx="380.4" cy="278.2" r="0.95" fill="#ee3b3b"/>
<circle cx="380.5" cy="246.7" r="0.95" fill="#ee3b3b"/>
<circle cx="382.2" cy="262.5" r="0.95" fill="#ee3b3b"/>
<circle cx="384.4" cy="265.3" r="0.95" fill="#ee3b3b"/>
<circle cx="384.5" cy="243.1" r="0.95" fill="#ee3b3b"/>
<circle cx="387.3" cy="271.2" r="0.95" fill="#ee3b3b"/>
<circle cx="390.2" cy="275.1" r="0.95" fill="#ee3b3b"/>
<circle cx="391.9" cy="253.9" r="0.95" fill="#ee3b3b"/>
<circle cx="392.1" cy="229.0" r="0.95" fill="#ee3b3b"/>
<circle cx="394.4" cy="276.8" r="0.95" fill="#ee3b3b"/>
<circle cx="394.5" cy="309.0" r="0.95" fill="#ee3b3b"/>
<circle cx="396.7" cy="277.3" r="0.95" fill="#ee3b3b"/>
<circle cx="399.3" cy="271.4" r="0.95" fill="#ee3b3b"/>
<circle cx="399.5" cy="295.7" r="0.95" fill="#ee3b3b"/>
<circle cx="402.4" cy="275.1" r="0.95" fill="#ee3b3b"/>
<circle cx="402.5" cy="257.8" r="0.95" fill="#ee3b3b"/>
<circle cx="404.1" cy="264.3" r="0.95" fill="#ee3b3b"/>
<circle cx="406.4" cy="275.5" r="0.95" fill="#ee3b3b"/>
<circle cx="406.5" cy="237.7" r="0.95" fill="#ee3b3b"/>
<circle cx="408.1" cy="272.1" r="0.95" fill="#ee3b3b"/>
<circle cx="410.3" cy="290.7" r="0.95" fill="#ee3b3b"/>
<circle cx="412.9" cy="285.1" r="0.95" fill="#ee3b3b"/>
<circle cx="414.8" cy="276.0" r="0.95" fill="#ee3b3b"/>
<circle cx="414.9" cy="307.4" r="0.95" fill="#ee3b3b"/>
<circle cx="416.5" cy="265.8" r="0.95" fill="#ee3b3b"/>
<circle cx="418.2" cy="277.8" r="0.95" fill="#ee3b3b"/>
<circle cx="420.2" cy="283.4" r="0.95" fill="#ee3b3b"/>
<circle cx="422.8" cy="277.4" r="0.95" fill="#ee3b3b"/>
<circle cx="424.3" cy="271.1" r="0.95" fill="#ee3b3b"/>
<circle cx="427.0" cy="274.7" r="0.95" fill="#ee3b3b"/>
<circle cx="428.8" cy="290.2" r="0.95" fill="#ee3b3b"/>
<circle cx="431.3" cy="283.7" r="0.95" fill="#ee3b3b"/>
<circle cx="433.6" cy="290.1" r="0.95" fill="#ee3b3b"/>
<circle cx="435.6" cy="284.2" r="0.95" fill="#ee3b3b"/>
<circle cx="438.1" cy="283.4" r="0.95" fill="#ee3b3b"/>
<circle cx="440.2" cy="306.3" r="0.95" fill="#ee3b3b"/>
<circle cx="442.5" cy="312.4" r="0.95" fill="#ee3b3b"/>
<circle cx="444.1" cy="296.0" r="0.95" fill="#ee3b3b"/>
<circle cx="444.2" cy="331.3" r="0.95" fill="#ee3b3b"/>
<circle cx="446.1" cy="324.0" r="0.95" fill="#ee3b3b"/>
<circle cx="447.3" cy="315.6" r="0.95" fill="#ee3b3b"/>
<circle cx="448.3" cy="316.6" r="0.95" fill="#ee3b3b"/>
<circle cx="448.5" cy="354.8" r="0.95" fill="#ee3b3b"/>
<circle cx="449.7" cy="326.3" r="0.95" fill="#ee3b3b"/>
<circle cx="450.6" cy="340.2" r="0.95" fill="#ee3b3b"/>
<circle cx="451.8" cy="334.1" r="0.95" fill="#ee3b3b"/>
<circle cx="452.8" cy="334.7" r="0.95" fill="#ee3b3b"/>
<circle cx="453.8" cy="337.8" r="0.95" fill="#ee3b3b"/>
<circle cx="455.3" cy="329.3" r="0.95" fill="#ee3b3b"/>
<circle cx="457.0" cy="355.1" r="0.95" fill="#ee3b3b"/>
<circle cx="458.1" cy="337.5" r="0.95" fill="#ee3b3b"/>
<circle cx="459.5" cy="324.8" r="0.95" fill="#ee3b3b"/>
<circle cx="459.6" cy="285.4" r="0.95" fill="#ee3b3b"/>
<circle cx="461.1" cy="339.5" r="0.95" fill="#ee3b3b"/>
<circle cx="462.5" cy="338.6" r="0.95" fill="#ee3b3b"/>
<circle cx="462.6" cy="313.1" r="0.95" fill="#ee3b3b"/>
<circle cx="463.9" cy="338.0" r="0.95" fill="#ee3b3b"/>
<circle cx="465.6" cy="334.7" r="0.95" fill="#ee3b3b"/>
<circle cx="465.7" cy="309.7" r="0.95" fill="#ee3b3b"/>
<circle cx="467.7" cy="326.7" r="0.95" fill="#ee3b3b"/>
<circle cx="467.9" cy="310.8" r="0.95" fill="#ee3b3b"/>
<circle cx="469.5" cy="343.8" r="0.95" fill="#ee3b3b"/>
<circle cx="470.8" cy="330.6" r="0.95" fill="#ee3b3b"/>
<circle cx="471.9" cy="341.1" r="0.95" fill="#ee3b3b"/>
<circle cx="473.3" cy="359.5" r="0.95" fill="#ee3b3b"/>
<circle cx="473.4" cy="359.5" r="0.95" fill="#ee3b3b"/>
<circle cx="475.0" cy="345.6" r="0.95" fill="#ee3b3b"/>
<circle cx="476.4" cy="350.5" r="0.95" fill="#ee3b3b"/>
<circle cx="476.5" cy="330.9" r="0.95" fill="#ee3b3b"/>
<circle cx="477.7" cy="320.6" r="0.95" fill="#ee3b3b"/>
<circle cx="477.8" cy="294.8" r="0.95" fill="#ee3b3b"/>
<circle cx="479.7" cy="338.2" r="0.95" fill="#ee3b3b"/>
<circle cx="481.3" cy="333.5" r="0.95" fill="#ee3b3b"/>
<circle cx="481.4" cy="359.5" r="0.95" fill="#ee3b3b"/>
<circle cx="483.2" cy="322.4" r="0.95" fill="#ee3b3b"/>
<circle cx="484.3" cy="331.7" r="0.95" fill="#ee3b3b"/>
<circle cx="485.6" cy="319.1" r="0.95" fill="#ee3b3b"/>
<circle cx="487.5" cy="330.8" r="0.95" fill="#ee3b3b"/>
<circle cx="488.8" cy="336.5" r="0.95" fill="#ee3b3b"/>
<circle cx="488.9" cy="359.5" r="0.95" fill="#ee3b3b"/>
<circle cx="491.0" cy="322.5" r="0.95" fill="#ee3b3b"/>
<circle cx="493.5" cy="331.4" r="0.95" fill="#ee3b3b"/>
<circle cx="493.7" cy="308.0" r="0.95" fill="#ee3b3b"/>
<circle cx="496.4" cy="309.6" r="0.95" fill="#ee3b3b"/>
<circle cx="496.5" cy="277.1" r="0.95" fill="#ee3b3b"/>
<circle cx="498.6" cy="313.6" r="0.95" fill="#ee3b3b"/>
<circle cx="501.6" cy="317.2" r="0.95" fill="#ee3b3b"/>
<circle cx="501.7" cy="286.0" r="0.95" fill="#ee3b3b"/>
<circle cx="503.4" cy="321.2" r="0.95" fill="#ee3b3b"/>
<circle cx="503.5" cy="281.0" r="0.95" fill="#ee3b3b"/>
<circle cx="505.9" cy="297.5" r="0.95" fill="#ee3b3b"/>
<circle cx="507.8" cy="280.2" r="0.95" fill="#ee3b3b"/>
<circle cx="510.5" cy="276.4" r="0.95" fill="#ee3b3b"/>
<circle cx="510.7" cy="246.4" r="0.95" fill="#ee3b3b"/>
<circle cx="512.4" cy="303.5" r="0.95" fill="#ee3b3b"/>
<circle cx="515.0" cy="289.0" r="0.95" fill="#ee3b3b"/>
<circle cx="517.9" cy="311.1" r="0.95" fill="#ee3b3b"/>
<circle cx="519.5" cy="308.7" r="0.95" fill="#ee3b3b"/>
<circle cx="521.4" cy="281.9" r="0.95" fill="#ee3b3b"/>
<circle cx="521.5" cy="263.4" r="0.95" fill="#ee3b3b"/>
<circle cx="524.0" cy="280.1" r="0.95" fill="#ee3b3b"/>
<circle cx="525.9" cy="261.1" r="0.95" fill="#ee3b3b"/>
<circle cx="527.8" cy="276.1" r="0.95" fill="#ee3b3b"/>
<circle cx="529.3" cy="256.5" r="0.95" fill="#ee3b3b"/>
<circle cx="531.6" cy="236.3" r="0.95" fill="#ee3b3b"/>
<circle cx="533.4" cy="235.7" r="0.95" fill="#ee3b3b"/>
<circle cx="536.1" cy="262.7" r="0.95" fill="#ee3b3b"/>
<circle cx="363.3" cy="352.8" r="0.95" fill="#1f64d8"/>
<circle cx="365.5" cy="299.2" r="0.95" fill="#1f64d8"/>
<circle cx="368.2" cy="306.2" r="0.95" fill="#1f64d8"/>
<circle cx="369.5" cy="296.7" r="0.95" fill="#1f64d8"/>
<circle cx="370.9" cy="275.3" r="0.95" fill="#1f64d8"/>
<circle cx="373.6" cy="267.7" r="0.95" fill="#1f64d8"/>
<circle cx="374.9" cy="280.9" r="0.95" fill="#1f64d8"/>
<circle cx="377.8" cy="290.5" r="0.95" fill="#1f64d8"/>
<circle cx="377.9" cy="268.8" r="0.95" fill="#1f64d8"/>
<circle cx="380.6" cy="279.4" r="0.95" fill="#1f64d8"/>
<circle cx="383.4" cy="286.4" r="0.95" fill="#1f64d8"/>
<circle cx="385.9" cy="281.9" r="0.95" fill="#1f64d8"/>
<circle cx="386.0" cy="255.7" r="0.95" fill="#1f64d8"/>
<circle cx="388.9" cy="270.1" r="0.95" fill="#1f64d8"/>
<circle cx="391.0" cy="276.9" r="0.95" fill="#1f64d8"/>
<circle cx="393.9" cy="252.1" r="0.95" fill="#1f64d8"/>
<circle cx="395.6" cy="281.2" r="0.95" fill="#1f64d8"/>
<circle cx="398.1" cy="260.9" r="0.95" fill="#1f64d8"/>
<circle cx="400.7" cy="279.2" r="0.95" fill="#1f64d8"/>
<circle cx="403.6" cy="289.9" r="0.95" fill="#1f64d8"/>
<circle cx="406.6" cy="263.3" r="0.95" fill="#1f64d8"/>
<circle cx="409.0" cy="263.7" r="0.95" fill="#1f64d8"/>
<circle cx="410.3" cy="271.1" r="0.95" fill="#1f64d8"/>
<circle cx="412.1" cy="266.4" r="0.95" fill="#1f64d8"/>
<circle cx="413.8" cy="267.4" r="0.95" fill="#1f64d8"/>
<circle cx="416.8" cy="257.9" r="0.95" fill="#1f64d8"/>
<circle cx="416.9" cy="240.7" r="0.95" fill="#1f64d8"/>
<circle cx="419.8" cy="271.7" r="0.95" fill="#1f64d8"/>
<circle cx="421.3" cy="272.2" r="0.95" fill="#1f64d8"/>
<circle cx="424.4" cy="277.9" r="0.95" fill="#1f64d8"/>
<circle cx="425.9" cy="283.3" r="0.95" fill="#1f64d8"/>
<circle cx="428.7" cy="280.0" r="0.95" fill="#1f64d8"/>
<circle cx="431.6" cy="274.2" r="0.95" fill="#1f64d8"/>
<circle cx="431.7" cy="253.9" r="0.95" fill="#1f64d8"/>
<circle cx="434.2" cy="283.4" r="0.95" fill="#1f64d8"/>
<circle cx="436.8" cy="294.5" r="0.95" fill="#1f64d8"/>
<circle cx="438.8" cy="306.2" r="0.95" fill="#1f64d8"/>
<circle cx="441.6" cy="301.1" r="0.95" fill="#1f64d8"/>
<circle cx="443.0" cy="327.8" r="0.95" fill="#1f64d8"/>
<circle cx="444.5" cy="324.4" r="0.95" fill="#1f64d8"/>
<circle cx="446.4" cy="320.7" r="0.95" fill="#1f64d8"/>
<circle cx="448.5" cy="320.9" r="0.95" fill="#1f64d8"/>
<circle cx="450.3" cy="333.1" r="0.95" fill="#1f64d8"/>
<circle cx="450.5" cy="319.6" r="0.95" fill="#1f64d8"/>
<circle cx="452.1" cy="326.9" r="0.95" fill="#1f64d8"/>
<circle cx="453.1" cy="329.6" r="0.95" fill="#1f64d8"/>
<circle cx="454.6" cy="341.9" r="0.95" fill="#1f64d8"/>
<circle cx="454.7" cy="318.7" r="0.95" fill="#1f64d8"/>
<circle cx="455.6" cy="339.0" r="0.95" fill="#1f64d8"/>
<circle cx="456.5" cy="331.7" r="0.95" fill="#1f64d8"/>
<circle cx="457.6" cy="340.1" r="0.95" fill="#1f64d8"/>
<circle cx="459.4" cy="323.1" r="0.95" fill="#1f64d8"/>
<circle cx="460.4" cy="344.4" r="0.95" fill="#1f64d8"/>
<circle cx="461.3" cy="316.8" r="0.95" fill="#1f64d8"/>
<circle cx="463.0" cy="358.0" r="0.95" fill="#1f64d8"/>
<circle cx="464.0" cy="334.4" r="0.95" fill="#1f64d8"/>
<circle cx="465.3" cy="339.6" r="0.95" fill="#1f64d8"/>
<circle cx="466.7" cy="344.5" r="0.95" fill="#1f64d8"/>
<circle cx="468.6" cy="330.1" r="0.95" fill="#1f64d8"/>
<circle cx="469.9" cy="333.1" r="0.95" fill="#1f64d8"/>
<circle cx="470.0" cy="319.4" r="0.95" fill="#1f64d8"/>
<circle cx="471.8" cy="335.6" r="0.95" fill="#1f64d8"/>
<circle cx="472.0" cy="319.3" r="0.95" fill="#1f64d8"/>
<circle cx="473.7" cy="335.6" r="0.95" fill="#1f64d8"/>
<circle cx="473.8" cy="317.2" r="0.95" fill="#1f64d8"/>
<circle cx="475.8" cy="348.4" r="0.95" fill="#1f64d8"/>
<circle cx="477.1" cy="351.3" r="0.95" fill="#1f64d8"/>
<circle cx="478.1" cy="332.2" r="0.95" fill="#1f64d8"/>
<circle cx="479.6" cy="341.8" r="0.95" fill="#1f64d8"/>
<circle cx="481.5" cy="331.6" r="0.95" fill="#1f64d8"/>
<circle cx="482.7" cy="336.9" r="0.95" fill="#1f64d8"/>
<circle cx="484.9" cy="350.5" r="0.95" fill="#1f64d8"/>
<circle cx="485.0" cy="359.5" r="0.95" fill="#1f64d8"/>
<circle cx="486.2" cy="330.5" r="0.95" fill="#1f64d8"/>
<circle cx="486.3" cy="353.7" r="0.95" fill="#1f64d8"/>
<circle cx="488.2" cy="319.6" r="0.95" fill="#1f64d8"/>
<circle cx="489.5" cy="318.9" r="0.95" fill="#1f64d8"/>
<circle cx="490.4" cy="319.8" r="0.95" fill="#1f64d8"/>
<circle cx="492.3" cy="322.6" r="0.95" fill="#1f64d8"/>
<circle cx="493.9" cy="310.8" r="0.95" fill="#1f64d8"/>
<circle cx="496.6" cy="315.3" r="0.95" fill="#1f64d8"/>
<circle cx="499.0" cy="321.4" r="0.95" fill="#1f64d8"/>
<circle cx="501.7" cy="322.1" r="0.95" fill="#1f64d8"/>
<circle cx="504.2" cy="303.7" r="0.95" fill="#1f64d8"/>
<circle cx="505.6" cy="314.8" r="0.95" fill="#1f64d8"/>
<circle cx="507.1" cy="320.7" r="0.95" fill="#1f64d8"/>
<circle cx="508.8" cy="295.8" r="0.95" fill="#1f64d8"/>
<circle cx="510.6" cy="313.6" r="0.95" fill="#1f64d8"/>
<circle cx="510.7" cy="286.0" r="0.95" fill="#1f64d8"/>
<circle cx="513.4" cy="295.7" r="0.95" fill="#1f64d8"/>
<circle cx="516.3" cy="297.2" r="0.95" fill="#1f64d8"/>
<circle cx="517.8" cy="277.8" r="0.95" fill="#1f64d8"/>
<circle cx="520.0" cy="309.3" r="0.95" fill="#1f64d8"/>
<circle cx="522.8" cy="293.9" r="0.95" fill="#1f64d8"/>
<circle cx="523.0" cy="270.6" r="0.95" fill="#1f64d8"/>
<circle cx="524.8" cy="289.3" r="0.95" fill="#1f64d8"/>
<circle cx="524.9" cy="269.7" r="0.95" fill="#1f64d8"/>
<circle cx="527.7" cy="284.6" r="0.95" fill="#1f64d8"/>
<circle cx="530.2" cy="274.4" r="0.95" fill="#1f64d8"/>
<circle cx="533.1" cy="276.6" r="0.95" fill="#1f64d8"/>
<circle cx="533.2" cy="254.5" r="0.95" fill="#1f64d8"/>
<circle cx="536.2" cy="258.4" r="0.95" fill="#1f64d8"/>
<circle cx="536.3" cy="239.2" r="0.95" fill="#1f64d8"/>
<circle cx="363.3" cy="340.1" r="0.95" fill="#2fa060"/>
<circle cx="363.4" cy="322.8" r="0.95" fill="#2fa060"/>
<circle cx="365.5" cy="304.6" r="0.95" fill="#2fa060"/>
<circle cx="367.1" cy="303.8" r="0.95" fill="#2fa060"/>
<circle cx="369.4" cy="291.3" r="0.95" fill="#2fa060"/>
<circle cx="370.9" cy="297.4" r="0.95" fill="#2fa060"/>
<circle cx="371.0" cy="323.0" r="0.95" fill="#2fa060"/>
<circle cx="373.7" cy="294.2" r="0.95" fill="#2fa060"/>
<circle cx="375.9" cy="278.9" r="0.95" fill="#2fa060"/>
<circle cx="378.9" cy="284.6" r="0.95" fill="#2fa060"/>
<circle cx="379.0" cy="257.0" r="0.95" fill="#2fa060"/>
<circle cx="380.6" cy="298.6" r="0.95" fill="#2fa060"/>
<circle cx="382.2" cy="287.3" r="0.95" fill="#2fa060"/>
<circle cx="384.9" cy="267.6" r="0.95" fill="#2fa060"/>
<circle cx="385.1" cy="284.5" r="0.95" fill="#2fa060"/>
<circle cx="387.3" cy="283.4" r="0.95" fill="#2fa060"/>
<circle cx="390.4" cy="282.8" r="0.95" fill="#2fa060"/>
<circle cx="392.6" cy="279.3" r="0.95" fill="#2fa060"/>
<circle cx="394.3" cy="280.0" r="0.95" fill="#2fa060"/>
<circle cx="395.6" cy="278.0" r="0.95" fill="#2fa060"/>
<circle cx="397.2" cy="278.1" r="0.95" fill="#2fa060"/>
<circle cx="399.0" cy="267.7" r="0.95" fill="#2fa060"/>
<circle cx="401.2" cy="270.2" r="0.95" fill="#2fa060"/>
<circle cx="402.6" cy="277.2" r="0.95" fill="#2fa060"/>
<circle cx="405.2" cy="272.6" r="0.95" fill="#2fa060"/>
<circle cx="407.7" cy="279.0" r="0.95" fill="#2fa060"/>
<circle cx="410.3" cy="268.2" r="0.95" fill="#2fa060"/>
<circle cx="412.7" cy="257.1" r="0.95" fill="#2fa060"/>
<circle cx="414.7" cy="269.5" r="0.95" fill="#2fa060"/>
<circle cx="416.2" cy="274.3" r="0.95" fill="#2fa060"/>
<circle cx="417.8" cy="278.3" r="0.95" fill="#2fa060"/>
<circle cx="419.6" cy="283.6" r="0.95" fill="#2fa060"/>
<circle cx="422.1" cy="273.8" r="0.95" fill="#2fa060"/>
<circle cx="422.2" cy="297.9" r="0.95" fill="#2fa060"/>
<circle cx="424.8" cy="283.0" r="0.95" fill="#2fa060"/>
<circle cx="426.9" cy="263.5" r="0.95" fill="#2fa060"/>
<circle cx="429.8" cy="284.9" r="0.95" fill="#2fa060"/>
<circle cx="432.1" cy="270.9" r="0.95" fill="#2fa060"/>
<circle cx="433.4" cy="278.7" r="0.95" fill="#2fa060"/>
<circle cx="436.2" cy="302.4" r="0.95" fill="#2fa060"/>
<circle cx="437.8" cy="309.4" r="0.95" fill="#2fa060"/>
<circle cx="439.2" cy="296.2" r="0.95" fill="#2fa060"/>
<circle cx="440.6" cy="313.1" r="0.95" fill="#2fa060"/>
<circle cx="442.1" cy="304.8" r="0.95" fill="#2fa060"/>
<circle cx="443.7" cy="335.4" r="0.95" fill="#2fa060"/>
<circle cx="445.0" cy="321.3" r="0.95" fill="#2fa060"/>
<circle cx="446.7" cy="322.7" r="0.95" fill="#2fa060"/>
<circle cx="448.1" cy="344.5" r="0.95" fill="#2fa060"/>
<circle cx="450.2" cy="318.7" r="0.95" fill="#2fa060"/>
<circle cx="451.2" cy="328.0" r="0.95" fill="#2fa060"/>
<circle cx="452.3" cy="322.6" r="0.95" fill="#2fa060"/>
<circle cx="453.5" cy="346.0" r="0.95" fill="#2fa060"/>
<circle cx="454.9" cy="341.4" r="0.95" fill="#2fa060"/>
<circle cx="456.4" cy="337.5" r="0.95" fill="#2fa060"/>
<circle cx="456.6" cy="315.1" r="0.95" fill="#2fa060"/>
<circle cx="458.0" cy="340.2" r="0.95" fill="#2fa060"/>
<circle cx="459.9" cy="331.9" r="0.95" fill="#2fa060"/>
<circle cx="461.7" cy="350.0" r="0.95" fill="#2fa060"/>
<circle cx="463.5" cy="340.9" r="0.95" fill="#2fa060"/>
<circle cx="465.5" cy="351.1" r="0.95" fill="#2fa060"/>
<circle cx="467.5" cy="341.9" r="0.95" fill="#2fa060"/>
<circle cx="469.3" cy="334.3" r="0.95" fill="#2fa060"/>
<circle cx="470.5" cy="350.3" r="0.95" fill="#2fa060"/>
<circle cx="472.1" cy="336.5" r="0.95" fill="#2fa060"/>
<circle cx="473.7" cy="324.9" r="0.95" fill="#2fa060"/>
<circle cx="475.1" cy="341.1" r="0.95" fill="#2fa060"/>
<circle cx="476.3" cy="337.0" r="0.95" fill="#2fa060"/>
<circle cx="477.9" cy="323.5" r="0.95" fill="#2fa060"/>
<circle cx="479.3" cy="336.4" r="0.95" fill="#2fa060"/>
<circle cx="480.3" cy="319.5" r="0.95" fill="#2fa060"/>
<circle cx="482.4" cy="339.4" r="0.95" fill="#2fa060"/>
<circle cx="483.6" cy="328.3" r="0.95" fill="#2fa060"/>
<circle cx="485.1" cy="337.1" r="0.95" fill="#2fa060"/>
<circle cx="487.2" cy="323.3" r="0.95" fill="#2fa060"/>
<circle cx="488.4" cy="331.1" r="0.95" fill="#2fa060"/>
<circle cx="489.6" cy="312.5" r="0.95" fill="#2fa060"/>
<circle cx="489.7" cy="287.2" r="0.95" fill="#2fa060"/>
<circle cx="492.5" cy="314.8" r="0.95" fill="#2fa060"/>
<circle cx="492.6" cy="289.9" r="0.95" fill="#2fa060"/>
<circle cx="494.6" cy="323.5" r="0.95" fill="#2fa060"/>
<circle cx="496.4" cy="303.3" r="0.95" fill="#2fa060"/>
<circle cx="498.6" cy="305.3" r="0.95" fill="#2fa060"/>
<circle cx="500.8" cy="315.0" r="0.95" fill="#2fa060"/>
<circle cx="503.3" cy="291.4" r="0.95" fill="#2fa060"/>
<circle cx="505.9" cy="302.3" r="0.95" fill="#2fa060"/>
<circle cx="508.6" cy="302.5" r="0.95" fill="#2fa060"/>
<circle cx="510.6" cy="304.5" r="0.95" fill="#2fa060"/>
<circle cx="512.2" cy="302.9" r="0.95" fill="#2fa060"/>
<circle cx="513.8" cy="312.0" r="0.95" fill="#2fa060"/>
<circle cx="515.6" cy="296.7" r="0.95" fill="#2fa060"/>
<circle cx="516.9" cy="309.5" r="0.95" fill="#2fa060"/>
<circle cx="519.0" cy="283.6" r="0.95" fill="#2fa060"/>
<circle cx="521.2" cy="292.8" r="0.95" fill="#2fa060"/>
<circle cx="524.2" cy="287.3" r="0.95" fill="#2fa060"/>
<circle cx="526.3" cy="291.4" r="0.95" fill="#2fa060"/>
<circle cx="528.7" cy="270.4" r="0.95" fill="#2fa060"/>
<circle cx="530.1" cy="289.2" r="0.95" fill="#2fa060"/>
<circle cx="530.3" cy="273.6" r="0.95" fill="#2fa060"/>
<circle cx="531.8" cy="278.5" r="0.95" fill="#2fa060"/>
<circle cx="534.0" cy="285.1" r="0.95" fill="#2fa060"/>
<circle cx="536.0" cy="262.7" r="0.95" fill="#2fa060"/>
<circle cx="363.3" cy="358.0" r="0.95" fill="#a86ee0"/>
<circle cx="365.2" cy="302.7" r="0.95" fill="#a86ee0"/>
<circle cx="367.9" cy="288.3" r="0.95" fill="#a86ee0"/>
<circle cx="370.6" cy="297.2" r="0.95" fill="#a86ee0"/>
<circle cx="372.3" cy="294.3" r="0.95" fill="#a86ee0"/>
<circle cx="374.0" cy="283.5" r="0.95" fill="#a86ee0"/>
<circle cx="374.1" cy="272.9" r="0.95" fill="#a86ee0"/>
<circle cx="376.0" cy="288.3" r="0.95" fill="#a86ee0"/>
<circle cx="378.6" cy="277.1" r="0.95" fill="#a86ee0"/>
<circle cx="381.5" cy="283.9" r="0.95" fill="#a86ee0"/>
<circle cx="383.0" cy="281.6" r="0.95" fill="#a86ee0"/>
<circle cx="385.9" cy="305.4" r="0.95" fill="#a86ee0"/>
<circle cx="387.8" cy="285.3" r="0.95" fill="#a86ee0"/>
<circle cx="389.6" cy="278.4" r="0.95" fill="#a86ee0"/>
<circle cx="391.7" cy="291.0" r="0.95" fill="#a86ee0"/>
<circle cx="394.6" cy="267.3" r="0.95" fill="#a86ee0"/>
<circle cx="394.7" cy="256.0" r="0.95" fill="#a86ee0"/>
<circle cx="397.1" cy="272.5" r="0.95" fill="#a86ee0"/>
<circle cx="398.6" cy="279.2" r="0.95" fill="#a86ee0"/>
<circle cx="401.5" cy="290.4" r="0.95" fill="#a86ee0"/>
<circle cx="404.2" cy="279.1" r="0.95" fill="#a86ee0"/>
<circle cx="406.2" cy="267.0" r="0.95" fill="#a86ee0"/>
<circle cx="408.4" cy="278.7" r="0.95" fill="#a86ee0"/>
<circle cx="411.0" cy="276.5" r="0.95" fill="#a86ee0"/>
<circle cx="412.7" cy="271.4" r="0.95" fill="#a86ee0"/>
<circle cx="414.8" cy="272.1" r="0.95" fill="#a86ee0"/>
<circle cx="416.9" cy="265.2" r="0.95" fill="#a86ee0"/>
<circle cx="419.5" cy="267.1" r="0.95" fill="#a86ee0"/>
<circle cx="422.1" cy="274.5" r="0.95" fill="#a86ee0"/>
<circle cx="422.2" cy="251.9" r="0.95" fill="#a86ee0"/>
<circle cx="424.9" cy="287.7" r="0.95" fill="#a86ee0"/>
<circle cx="426.5" cy="295.9" r="0.95" fill="#a86ee0"/>
<circle cx="429.4" cy="279.2" r="0.95" fill="#a86ee0"/>
<circle cx="429.6" cy="269.6" r="0.95" fill="#a86ee0"/>
<circle cx="432.4" cy="287.9" r="0.95" fill="#a86ee0"/>
<circle cx="432.5" cy="263.1" r="0.95" fill="#a86ee0"/>
<circle cx="434.3" cy="274.8" r="0.95" fill="#a86ee0"/>
<circle cx="435.9" cy="276.0" r="0.95" fill="#a86ee0"/>
<circle cx="438.4" cy="296.5" r="0.95" fill="#a86ee0"/>
<circle cx="438.6" cy="282.3" r="0.95" fill="#a86ee0"/>
<circle cx="440.8" cy="310.0" r="0.95" fill="#a86ee0"/>
<circle cx="442.7" cy="315.5" r="0.95" fill="#a86ee0"/>
<circle cx="442.9" cy="305.8" r="0.95" fill="#a86ee0"/>
<circle cx="444.4" cy="327.9" r="0.95" fill="#a86ee0"/>
<circle cx="444.5" cy="307.5" r="0.95" fill="#a86ee0"/>
<circle cx="445.7" cy="327.0" r="0.95" fill="#a86ee0"/>
<circle cx="446.7" cy="346.9" r="0.95" fill="#a86ee0"/>
<circle cx="448.2" cy="330.6" r="0.95" fill="#a86ee0"/>
<circle cx="449.4" cy="335.7" r="0.95" fill="#a86ee0"/>
<circle cx="451.3" cy="342.0" r="0.95" fill="#a86ee0"/>
<circle cx="452.6" cy="345.6" r="0.95" fill="#a86ee0"/>
<circle cx="453.9" cy="335.2" r="0.95" fill="#a86ee0"/>
<circle cx="455.5" cy="333.5" r="0.95" fill="#a86ee0"/>
<circle cx="457.1" cy="349.7" r="0.95" fill="#a86ee0"/>
<circle cx="458.6" cy="344.2" r="0.95" fill="#a86ee0"/>
<circle cx="460.6" cy="336.1" r="0.95" fill="#a86ee0"/>
<circle cx="462.7" cy="348.2" r="0.95" fill="#a86ee0"/>
<circle cx="464.0" cy="343.4" r="0.95" fill="#a86ee0"/>
<circle cx="466.0" cy="339.0" r="0.95" fill="#a86ee0"/>
<circle cx="467.8" cy="351.7" r="0.95" fill="#a86ee0"/>
<circle cx="469.6" cy="330.3" r="0.95" fill="#a86ee0"/>
<circle cx="471.2" cy="345.3" r="0.95" fill="#a86ee0"/>
<circle cx="473.1" cy="357.0" r="0.95" fill="#a86ee0"/>
<circle cx="475.3" cy="335.1" r="0.95" fill="#a86ee0"/>
<circle cx="476.4" cy="343.2" r="0.95" fill="#a86ee0"/>
<circle cx="476.5" cy="327.1" r="0.95" fill="#a86ee0"/>
<circle cx="478.6" cy="346.2" r="0.95" fill="#a86ee0"/>
<circle cx="480.2" cy="344.1" r="0.95" fill="#a86ee0"/>
<circle cx="481.5" cy="336.9" r="0.95" fill="#a86ee0"/>
<circle cx="481.6" cy="358.0" r="0.95" fill="#a86ee0"/>
<circle cx="482.6" cy="345.8" r="0.95" fill="#a86ee0"/>
<circle cx="483.9" cy="335.1" r="0.95" fill="#a86ee0"/>
<circle cx="484.8" cy="325.4" r="0.95" fill="#a86ee0"/>
<circle cx="486.8" cy="340.1" r="0.95" fill="#a86ee0"/>
<circle cx="488.1" cy="320.9" r="0.95" fill="#a86ee0"/>
<circle cx="490.0" cy="321.9" r="0.95" fill="#a86ee0"/>
<circle cx="492.8" cy="321.3" r="0.95" fill="#a86ee0"/>
<circle cx="495.2" cy="326.6" r="0.95" fill="#a86ee0"/>
<circle cx="497.3" cy="328.0" r="0.95" fill="#a86ee0"/>
<circle cx="499.1" cy="319.5" r="0.95" fill="#a86ee0"/>
<circle cx="501.8" cy="304.3" r="0.95" fill="#a86ee0"/>
<circle cx="504.2" cy="304.7" r="0.95" fill="#a86ee0"/>
<circle cx="506.5" cy="319.0" r="0.95" fill="#a86ee0"/>
<circle cx="509.0" cy="306.2" r="0.95" fill="#a86ee0"/>
<circle cx="510.6" cy="314.7" r="0.95" fill="#a86ee0"/>
<circle cx="512.4" cy="288.1" r="0.95" fill="#a86ee0"/>
<circle cx="513.8" cy="301.7" r="0.95" fill="#a86ee0"/>
<circle cx="515.4" cy="299.6" r="0.95" fill="#a86ee0"/>
<circle cx="517.2" cy="300.6" r="0.95" fill="#a86ee0"/>
<circle cx="517.4" cy="282.4" r="0.95" fill="#a86ee0"/>
<circle cx="519.3" cy="300.3" r="0.95" fill="#a86ee0"/>
<circle cx="519.4" cy="286.9" r="0.95" fill="#a86ee0"/>
<circle cx="522.0" cy="294.4" r="0.95" fill="#a86ee0"/>
<circle cx="523.5" cy="294.0" r="0.95" fill="#a86ee0"/>
<circle cx="525.5" cy="285.9" r="0.95" fill="#a86ee0"/>
<circle cx="528.0" cy="285.6" r="0.95" fill="#a86ee0"/>
<circle cx="531.0" cy="275.6" r="0.95" fill="#a86ee0"/>
<circle cx="533.5" cy="281.8" r="0.95" fill="#a86ee0"/>
<circle cx="536.1" cy="262.7" r="0.95" fill="#a86ee0"/>
<rect x="363.3" y="204.8" width="174.3" height="155.3" fill="none" stroke="#666" stroke-width="1"/>
<g stroke="#666" stroke-width="0.8">
<line x1="360.8" y1="360.1" x2="363.3" y2="360.1"/>
<line x1="361.8" y1="336.8" x2="363.3" y2="336.8"/>
<line x1="360.8" y1="313.5" x2="363.3" y2="313.5"/>
<line x1="361.8" y1="290.2" x2="363.3" y2="290.2"/>
<line x1="360.8" y1="266.9" x2="363.3" y2="266.9"/>
<line x1="361.8" y1="243.6" x2="363.3" y2="243.6"/>
<line x1="360.8" y1="220.3" x2="363.3" y2="220.3"/>
<line x1="363.3" y1="360.1" x2="363.3" y2="362.3"/>
<line x1="385.1" y1="360.1" x2="385.1" y2="361.5"/>
<line x1="406.9" y1="360.1" x2="406.9" y2="362.3"/>
<line x1="428.7" y1="360.1" x2="428.7" y2="361.5"/>
<line x1="450.5" y1="360.1" x2="450.5" y2="362.3"/>
<line x1="472.2" y1="360.1" x2="472.2" y2="361.5"/>
<line x1="494.0" y1="360.1" x2="494.0" y2="362.3"/>
<line x1="515.8" y1="360.1" x2="515.8" y2="361.5"/>
<line x1="537.6" y1="360.1" x2="537.6" y2="362.3"/>
</g>
<g font-family="Liberation Sans, Arial, sans-serif" font-size="8" font-weight="bold" fill="#222">
<text x="359.1" y="363.0" text-anchor="end">0</text>
<text x="359.1" y="316.4" text-anchor="end">15</text>
<text x="359.1" y="269.8" text-anchor="end">30</text>
<text x="359.1" y="223.2" text-anchor="end">45</text>
<text x="363.3" y="370.4" text-anchor="middle">0</text>
<text x="406.9" y="370.4" text-anchor="middle">2</text>
<text x="450.5" y="370.4" text-anchor="middle">4</text>
<text x="494.0" y="370.4" text-anchor="middle">6</text>
<text x="537.6" y="370.4" text-anchor="middle">8</text>
</g>
<text x="450.4" y="383.4" text-anchor="middle" font-family="Liberation Sans, Arial, sans-serif" font-size="7.6" fill="#333">Surface Pressure (mN/m)</text>
<text transform="translate(348.2,282.4) rotate(-90)" text-anchor="middle" font-family="Liberation Sans, Arial, sans-serif" font-size="7.6" fill="#333">Compression Modulus (mN/m)</text>
</svg>
</body></html>
